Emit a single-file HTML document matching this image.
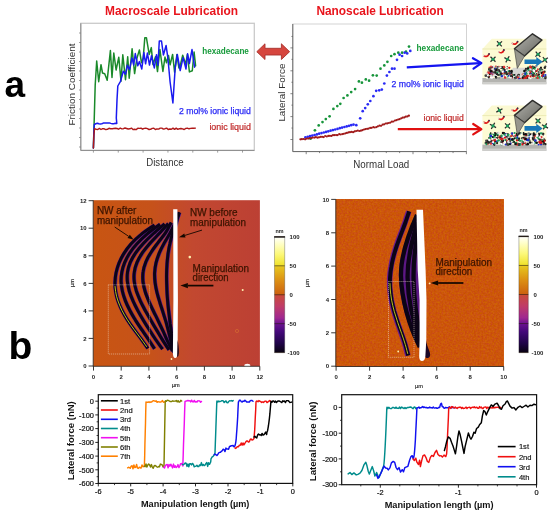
<!DOCTYPE html>
<html><head><meta charset="utf-8"><title>Figure</title>
<style>html,body{margin:0;padding:0;background:#fff}svg{display:block;font-family:"Liberation Sans",sans-serif;filter:blur(0.45px)}</style></head>
<body>
<svg width="550" height="513" viewBox="0 0 550 513">
<rect width="550" height="513" fill="#fff"/>
<text x="4.5" y="97" font-size="37" fill="#000" font-weight="bold" text-anchor="start" >a</text>
<text x="8.5" y="359.2" font-size="39" fill="#000" font-weight="bold" text-anchor="start" >b</text>
<text x="105" y="14.5" font-size="13" fill="#e8141c" font-weight="bold" text-anchor="start" textLength="133" lengthAdjust="spacingAndGlyphs" >Macroscale Lubrication</text>
<text x="316.4" y="14.5" font-size="13" fill="#e8141c" font-weight="bold" text-anchor="start" textLength="127.4" lengthAdjust="spacingAndGlyphs" >Nanoscale Lubrication</text>
<rect x="80.8" y="23.3" width="173.5" height="127.10000000000001" fill="#fff" stroke="#cacaca" stroke-width="1.3"/>
<line x1="80.8" y1="23.3" x2="80.8" y2="150.4" stroke="#8a8a8a" stroke-width="1" />
<line x1="80.8" y1="150.4" x2="254.3" y2="150.4" stroke="#8a8a8a" stroke-width="1" />
<line x1="79.0" y1="33.0" x2="80.8" y2="33.0" stroke="#777" stroke-width="0.7" />
<line x1="79.0" y1="42.5" x2="80.8" y2="42.5" stroke="#777" stroke-width="0.7" />
<line x1="79.0" y1="52.0" x2="80.8" y2="52.0" stroke="#777" stroke-width="0.7" />
<line x1="79.0" y1="61.5" x2="80.8" y2="61.5" stroke="#777" stroke-width="0.7" />
<line x1="79.0" y1="71.0" x2="80.8" y2="71.0" stroke="#777" stroke-width="0.7" />
<line x1="79.0" y1="80.5" x2="80.8" y2="80.5" stroke="#777" stroke-width="0.7" />
<line x1="79.0" y1="90.0" x2="80.8" y2="90.0" stroke="#777" stroke-width="0.7" />
<line x1="79.0" y1="99.5" x2="80.8" y2="99.5" stroke="#777" stroke-width="0.7" />
<line x1="79.0" y1="109.0" x2="80.8" y2="109.0" stroke="#777" stroke-width="0.7" />
<line x1="79.0" y1="118.5" x2="80.8" y2="118.5" stroke="#777" stroke-width="0.7" />
<line x1="79.0" y1="128.0" x2="80.8" y2="128.0" stroke="#777" stroke-width="0.7" />
<line x1="79.0" y1="137.5" x2="80.8" y2="137.5" stroke="#777" stroke-width="0.7" />
<line x1="79.0" y1="147.0" x2="80.8" y2="147.0" stroke="#777" stroke-width="0.7" />
<line x1="93.4" y1="150.4" x2="93.4" y2="152.6" stroke="#777" stroke-width="0.7" />
<line x1="118.25" y1="150.4" x2="118.25" y2="152.6" stroke="#777" stroke-width="0.7" />
<line x1="143.10000000000002" y1="150.4" x2="143.10000000000002" y2="152.6" stroke="#777" stroke-width="0.7" />
<line x1="167.95000000000002" y1="150.4" x2="167.95000000000002" y2="152.6" stroke="#777" stroke-width="0.7" />
<line x1="192.8" y1="150.4" x2="192.8" y2="152.6" stroke="#777" stroke-width="0.7" />
<line x1="217.65" y1="150.4" x2="217.65" y2="152.6" stroke="#777" stroke-width="0.7" />
<line x1="242.50000000000003" y1="150.4" x2="242.50000000000003" y2="152.6" stroke="#777" stroke-width="0.7" />
<text x="75" y="125.5" font-size="9.6" fill="#333" font-weight="normal" text-anchor="start" textLength="82" lengthAdjust="spacingAndGlyphs" transform="rotate(-90 75 125.5)" >Friction Coefficient</text>
<text x="146.3" y="165.6" font-size="10" fill="#333" font-weight="normal" text-anchor="start" textLength="37.4" lengthAdjust="spacingAndGlyphs" >Distance</text>
<polyline points="93.4,148.0 94.2,120.0 95.2,85.0 96.7,61.0 98.7,81.7 101.0,64.7 102.5,73.0 104.7,73.8 107.2,80.2 110.4,50.5 112.0,77.5 113.8,53.0 116.1,70.0 118.8,57.2 121.0,81.2 122.8,54.8 125.5,79.7 127.7,56.7 129.2,78.2 132.1,48.8 134.6,73.6 136.8,58.8 139.4,49.9 141.5,62.7 143.2,58.1 144.8,37.7 145.8,37.7 146.4,37.7 149.2,54.5 151.3,47.6 153.0,64.6 155.5,56.8 157.5,71.6 159.9,49.4 162.9,71.5 165.0,57.1 166.5,62.8 168.5,55.5 170.1,64.8 172.6,54.4 174.6,72.2 176.9,54.6 178.9,67.9 180.3,65.3 182.7,55.3 185.7,64.2 187.4,54.3 189.4,71.9 192.3,70.7 194.1,52.0 195.6,65.9" fill="none" stroke="#1a8a2a" stroke-width="1.5" stroke-linejoin="round" stroke-linecap="round" />
<polyline points="93.4,148.0 93.8,135.0 94.3,124.5 95.8,123.8 97.3,123.2 98.8,123.8 100.3,123.9 101.8,123.8 103.3,123.1 104.8,123.0 106.3,123.0 107.8,122.9 109.3,122.9 110.8,123.4 112.3,123.8 113.8,123.7 115.3,123.3 116.8,123.5 116.3,118.0 117.0,100.0 117.8,86.0 120.5,81.3 123.3,71.2 125.5,74.2 127.4,65.3 129.5,69.6 132.0,57.9 133.7,64.9 135.3,53.6 137.8,65.8 139.4,61.6 141.8,69.0 143.9,52.6 145.6,63.8 147.4,53.1 149.5,65.0 151.5,55.7 154.3,67.9 156.5,54.7 157.9,65.2 159.3,41.0 161.5,41.0 163.4,55.0 166.1,45.5 167.9,58.2 170.1,82.0 172.9,103.0 175.2,67.9 177.3,54.5 180.2,70.5 183.1,57.6 186.0,69.0 187.6,53.8 189.4,63.5 192.0,49.6 194.6,67.2" fill="none" stroke="#1a1af0" stroke-width="1.5" stroke-linejoin="round" stroke-linecap="round" />
<polyline points="93.4,148.0 93.9,135.0 94.6,128.5 96.2,129.4 97.8,129.5 99.4,128.4 101.0,129.5 102.6,128.6 104.2,128.8 105.8,129.6 107.4,129.3 109.0,128.3 110.6,128.7 112.2,128.8 113.8,128.5 115.4,128.3 117.0,128.5 118.6,129.2 120.2,128.0 121.8,128.9 123.4,128.7 125.0,128.0 126.6,128.5 128.2,129.0 129.8,128.8 131.4,128.1 133.0,129.6 134.6,129.3 136.2,129.6 137.8,128.2 139.4,128.4 141.0,128.1 142.6,129.2 144.2,128.4 145.8,128.2 147.4,128.7 149.0,129.5 150.6,129.3 152.2,128.4 153.8,128.2 155.4,129.5 157.0,128.9 158.6,129.1 160.2,128.1 161.8,128.1 163.4,129.1 165.0,128.7 166.6,128.1 168.2,129.5 169.8,129.0 171.4,129.3 173.0,128.1 174.6,129.4 176.2,128.1 177.8,129.4 179.4,128.7 181.0,128.5 182.6,128.9 184.2,129.5 185.8,128.4 187.4,128.2 189.0,128.8 190.6,128.4 192.2,128.2 193.8,128.3 195.4,128.1" fill="none" stroke="#b01818" stroke-width="1.4" stroke-linejoin="round" stroke-linecap="round" />
<text x="202.3" y="53.6" font-size="8.6" fill="#169a3a" font-weight="bold" text-anchor="start" textLength="46.6" lengthAdjust="spacingAndGlyphs" >hexadecane</text>
<text x="178.9" y="113.7" font-size="8.4" fill="#2a2af5" font-weight="normal" text-anchor="start" textLength="72" lengthAdjust="spacingAndGlyphs" stroke="#2a2af5" stroke-width="0.25">2 mol% ionic liquid</text>
<text x="209.4" y="130.2" font-size="8.4" fill="#c02828" font-weight="normal" text-anchor="start" textLength="41.5" lengthAdjust="spacingAndGlyphs" stroke="#c02828" stroke-width="0.2">ionic liquid</text>
<path d="M256.8,51.7 L265,43.8 L265,48.3 L281.4,48.3 L281.4,43.8 L289.6,51.7 L281.4,59.5 L281.4,55 L265,55 L265,59.5 Z" fill="#d6463e" stroke="#a8322c" stroke-width="0.9"/>
<rect x="292.8" y="24" width="173.8" height="127.6" fill="#fff" stroke="#c8c8c8" stroke-width="0.8"/>
<line x1="292.8" y1="24" x2="292.8" y2="151.6" stroke="#666" stroke-width="1" />
<line x1="292.8" y1="151.6" x2="466.6" y2="151.6" stroke="#666" stroke-width="1" />
<line x1="290.40000000000003" y1="139.5" x2="292.8" y2="139.5" stroke="#555" stroke-width="0.7" />
<line x1="291.40000000000003" y1="128.05" x2="292.8" y2="128.05" stroke="#555" stroke-width="0.7" />
<line x1="290.40000000000003" y1="116.6" x2="292.8" y2="116.6" stroke="#555" stroke-width="0.7" />
<line x1="291.40000000000003" y1="105.15" x2="292.8" y2="105.15" stroke="#555" stroke-width="0.7" />
<line x1="290.40000000000003" y1="93.7" x2="292.8" y2="93.7" stroke="#555" stroke-width="0.7" />
<line x1="291.40000000000003" y1="82.25" x2="292.8" y2="82.25" stroke="#555" stroke-width="0.7" />
<line x1="290.40000000000003" y1="70.80000000000001" x2="292.8" y2="70.80000000000001" stroke="#555" stroke-width="0.7" />
<line x1="291.40000000000003" y1="59.35000000000001" x2="292.8" y2="59.35000000000001" stroke="#555" stroke-width="0.7" />
<line x1="290.40000000000003" y1="47.900000000000006" x2="292.8" y2="47.900000000000006" stroke="#555" stroke-width="0.7" />
<line x1="291.40000000000003" y1="36.45" x2="292.8" y2="36.45" stroke="#555" stroke-width="0.7" />
<line x1="306.2" y1="151.6" x2="306.2" y2="154.2" stroke="#555" stroke-width="0.7" />
<line x1="319.55" y1="151.6" x2="319.55" y2="153.1" stroke="#555" stroke-width="0.7" />
<line x1="332.9" y1="151.6" x2="332.9" y2="153.1" stroke="#555" stroke-width="0.7" />
<line x1="346.25" y1="151.6" x2="346.25" y2="153.1" stroke="#555" stroke-width="0.7" />
<line x1="359.59999999999997" y1="151.6" x2="359.59999999999997" y2="154.2" stroke="#555" stroke-width="0.7" />
<line x1="372.95" y1="151.6" x2="372.95" y2="153.1" stroke="#555" stroke-width="0.7" />
<line x1="386.29999999999995" y1="151.6" x2="386.29999999999995" y2="153.1" stroke="#555" stroke-width="0.7" />
<line x1="399.65" y1="151.6" x2="399.65" y2="153.1" stroke="#555" stroke-width="0.7" />
<line x1="413.0" y1="151.6" x2="413.0" y2="154.2" stroke="#555" stroke-width="0.7" />
<line x1="426.34999999999997" y1="151.6" x2="426.34999999999997" y2="153.1" stroke="#555" stroke-width="0.7" />
<line x1="439.7" y1="151.6" x2="439.7" y2="153.1" stroke="#555" stroke-width="0.7" />
<line x1="453.04999999999995" y1="151.6" x2="453.04999999999995" y2="153.1" stroke="#555" stroke-width="0.7" />
<line x1="466.4" y1="151.6" x2="466.4" y2="154.2" stroke="#555" stroke-width="0.7" />
<text x="284.8" y="121.6" font-size="9.8" fill="#333" font-weight="normal" text-anchor="start" textLength="58" lengthAdjust="spacingAndGlyphs" transform="rotate(-90 284.8 121.6)" >Lateral Force</text>
<text x="353.3" y="167.5" font-size="10" fill="#333" font-weight="normal" text-anchor="start" textLength="56" lengthAdjust="spacingAndGlyphs" >Normal Load</text>
<circle cx="310.5" cy="138.7" r="1.35" fill="#16943a"/>
<circle cx="314.9" cy="130.3" r="1.35" fill="#16943a"/>
<circle cx="318.7" cy="125.4" r="1.35" fill="#16943a"/>
<circle cx="322.5" cy="122.1" r="1.35" fill="#16943a"/>
<circle cx="325.8" cy="119.1" r="1.35" fill="#16943a"/>
<circle cx="329.6" cy="116.3" r="1.35" fill="#16943a"/>
<circle cx="333.4" cy="108.9" r="1.35" fill="#16943a"/>
<circle cx="337.3" cy="106.1" r="1.35" fill="#16943a"/>
<circle cx="340.3" cy="103.8" r="1.35" fill="#16943a"/>
<circle cx="343.6" cy="98.0" r="1.35" fill="#16943a"/>
<circle cx="347.4" cy="95.4" r="1.35" fill="#16943a"/>
<circle cx="351.2" cy="92.1" r="1.35" fill="#16943a"/>
<circle cx="355.1" cy="89.1" r="1.35" fill="#16943a"/>
<circle cx="358.9" cy="81.4" r="1.35" fill="#16943a"/>
<circle cx="361.9" cy="82.7" r="1.35" fill="#16943a"/>
<circle cx="365.8" cy="79.4" r="1.35" fill="#16943a"/>
<circle cx="369.1" cy="80.7" r="1.35" fill="#16943a"/>
<circle cx="372.9" cy="75.3" r="1.35" fill="#16943a"/>
<circle cx="376.7" cy="75.6" r="1.35" fill="#16943a"/>
<circle cx="380.5" cy="68.7" r="1.35" fill="#16943a"/>
<circle cx="384.3" cy="65.4" r="1.35" fill="#16943a"/>
<circle cx="387.4" cy="61.8" r="1.35" fill="#16943a"/>
<circle cx="391.2" cy="56.0" r="1.35" fill="#16943a"/>
<circle cx="394.5" cy="54.2" r="1.35" fill="#16943a"/>
<circle cx="398.3" cy="52.7" r="1.35" fill="#16943a"/>
<circle cx="402.1" cy="52.7" r="1.35" fill="#16943a"/>
<circle cx="406.0" cy="51.7" r="1.35" fill="#16943a"/>
<circle cx="409.0" cy="46.6" r="1.35" fill="#16943a"/>
<circle cx="305.4" cy="137.4" r="1.35" fill="#2a2af5"/>
<circle cx="307.7" cy="136.8" r="1.35" fill="#2a2af5"/>
<circle cx="310.0" cy="136.2" r="1.35" fill="#2a2af5"/>
<circle cx="312.3" cy="135.6" r="1.35" fill="#2a2af5"/>
<circle cx="314.6" cy="135.0" r="1.35" fill="#2a2af5"/>
<circle cx="316.9" cy="134.4" r="1.35" fill="#2a2af5"/>
<circle cx="319.2" cy="133.7" r="1.35" fill="#2a2af5"/>
<circle cx="321.5" cy="133.1" r="1.35" fill="#2a2af5"/>
<circle cx="323.8" cy="132.5" r="1.35" fill="#2a2af5"/>
<circle cx="326.1" cy="131.9" r="1.35" fill="#2a2af5"/>
<circle cx="328.3" cy="131.3" r="1.35" fill="#2a2af5"/>
<circle cx="330.6" cy="130.7" r="1.35" fill="#2a2af5"/>
<circle cx="332.9" cy="130.1" r="1.35" fill="#2a2af5"/>
<circle cx="335.2" cy="129.5" r="1.35" fill="#2a2af5"/>
<circle cx="337.5" cy="128.9" r="1.35" fill="#2a2af5"/>
<circle cx="339.8" cy="128.2" r="1.35" fill="#2a2af5"/>
<circle cx="342.1" cy="127.6" r="1.35" fill="#2a2af5"/>
<circle cx="344.4" cy="127.0" r="1.35" fill="#2a2af5"/>
<circle cx="346.7" cy="126.4" r="1.35" fill="#2a2af5"/>
<circle cx="349.0" cy="125.8" r="1.35" fill="#2a2af5"/>
<circle cx="351.2" cy="125.2" r="1.35" fill="#2a2af5"/>
<circle cx="353.5" cy="124.6" r="1.35" fill="#2a2af5"/>
<circle cx="356.3" cy="125.2" r="1.35" fill="#2a2af5"/>
<circle cx="360.2" cy="118.3" r="1.35" fill="#2a2af5"/>
<circle cx="362.7" cy="111.2" r="1.35" fill="#2a2af5"/>
<circle cx="365.2" cy="108.1" r="1.35" fill="#2a2af5"/>
<circle cx="367.8" cy="104.3" r="1.35" fill="#2a2af5"/>
<circle cx="370.3" cy="101.0" r="1.35" fill="#2a2af5"/>
<circle cx="373.4" cy="96.2" r="1.35" fill="#2a2af5"/>
<circle cx="376.2" cy="90.8" r="1.35" fill="#2a2af5"/>
<circle cx="379.2" cy="90.3" r="1.35" fill="#2a2af5"/>
<circle cx="381.8" cy="89.6" r="1.35" fill="#2a2af5"/>
<circle cx="384.3" cy="83.5" r="1.35" fill="#2a2af5"/>
<circle cx="386.9" cy="75.6" r="1.35" fill="#2a2af5"/>
<circle cx="389.4" cy="72.0" r="1.35" fill="#2a2af5"/>
<circle cx="392.0" cy="68.7" r="1.35" fill="#2a2af5"/>
<circle cx="394.5" cy="68.7" r="1.35" fill="#2a2af5"/>
<circle cx="397.0" cy="59.8" r="1.35" fill="#2a2af5"/>
<circle cx="399.6" cy="54.7" r="1.35" fill="#2a2af5"/>
<circle cx="402.1" cy="56.0" r="1.35" fill="#2a2af5"/>
<circle cx="404.7" cy="52.7" r="1.35" fill="#2a2af5"/>
<circle cx="407.2" cy="53.4" r="1.35" fill="#2a2af5"/>
<circle cx="410.3" cy="50.9" r="1.35" fill="#2a2af5"/>
<circle cx="300.4" cy="139.3" r="1.1" fill="#a01818"/>
<circle cx="301.9" cy="139.2" r="1.1" fill="#a01818"/>
<circle cx="303.5" cy="139.0" r="1.1" fill="#a01818"/>
<circle cx="305.1" cy="139.3" r="1.1" fill="#a01818"/>
<circle cx="306.6" cy="138.6" r="1.1" fill="#a01818"/>
<circle cx="308.2" cy="138.6" r="1.1" fill="#a01818"/>
<circle cx="309.7" cy="138.1" r="1.1" fill="#a01818"/>
<circle cx="311.3" cy="138.1" r="1.1" fill="#a01818"/>
<circle cx="312.8" cy="137.6" r="1.1" fill="#a01818"/>
<circle cx="314.4" cy="137.6" r="1.1" fill="#a01818"/>
<circle cx="315.9" cy="137.2" r="1.1" fill="#a01818"/>
<circle cx="317.5" cy="137.7" r="1.1" fill="#a01818"/>
<circle cx="319.0" cy="137.3" r="1.1" fill="#a01818"/>
<circle cx="320.6" cy="136.8" r="1.1" fill="#a01818"/>
<circle cx="322.1" cy="136.8" r="1.1" fill="#a01818"/>
<circle cx="323.7" cy="137.1" r="1.1" fill="#a01818"/>
<circle cx="325.2" cy="136.0" r="1.1" fill="#a01818"/>
<circle cx="326.8" cy="136.5" r="1.1" fill="#a01818"/>
<circle cx="328.3" cy="135.9" r="1.1" fill="#a01818"/>
<circle cx="329.9" cy="135.8" r="1.1" fill="#a01818"/>
<circle cx="331.4" cy="135.9" r="1.1" fill="#a01818"/>
<circle cx="333.0" cy="135.2" r="1.1" fill="#a01818"/>
<circle cx="334.5" cy="135.1" r="1.1" fill="#a01818"/>
<circle cx="336.1" cy="135.1" r="1.1" fill="#a01818"/>
<circle cx="337.6" cy="135.1" r="1.1" fill="#a01818"/>
<circle cx="339.2" cy="134.2" r="1.1" fill="#a01818"/>
<circle cx="340.7" cy="134.5" r="1.1" fill="#a01818"/>
<circle cx="342.3" cy="134.1" r="1.1" fill="#a01818"/>
<circle cx="343.8" cy="133.8" r="1.1" fill="#a01818"/>
<circle cx="345.4" cy="133.3" r="1.1" fill="#a01818"/>
<circle cx="346.9" cy="132.9" r="1.1" fill="#a01818"/>
<circle cx="348.5" cy="132.4" r="1.1" fill="#a01818"/>
<circle cx="350.0" cy="132.2" r="1.1" fill="#a01818"/>
<circle cx="351.6" cy="131.8" r="1.1" fill="#a01818"/>
<circle cx="353.1" cy="132.2" r="1.1" fill="#a01818"/>
<circle cx="354.7" cy="131.4" r="1.1" fill="#a01818"/>
<circle cx="356.2" cy="131.0" r="1.1" fill="#a01818"/>
<circle cx="357.8" cy="130.6" r="1.1" fill="#a01818"/>
<circle cx="359.3" cy="131.0" r="1.1" fill="#a01818"/>
<circle cx="360.9" cy="130.7" r="1.1" fill="#a01818"/>
<circle cx="362.4" cy="130.2" r="1.1" fill="#a01818"/>
<circle cx="364.0" cy="129.5" r="1.1" fill="#a01818"/>
<circle cx="365.5" cy="129.1" r="1.1" fill="#a01818"/>
<circle cx="367.1" cy="128.8" r="1.1" fill="#a01818"/>
<circle cx="368.6" cy="128.6" r="1.1" fill="#a01818"/>
<circle cx="370.2" cy="127.9" r="1.1" fill="#a01818"/>
<circle cx="371.7" cy="127.8" r="1.1" fill="#a01818"/>
<circle cx="373.3" cy="127.2" r="1.1" fill="#a01818"/>
<circle cx="374.8" cy="127.5" r="1.1" fill="#a01818"/>
<circle cx="376.4" cy="127.1" r="1.1" fill="#a01818"/>
<circle cx="377.9" cy="126.3" r="1.1" fill="#a01818"/>
<circle cx="379.5" cy="125.6" r="1.1" fill="#a01818"/>
<circle cx="381.0" cy="125.8" r="1.1" fill="#a01818"/>
<circle cx="382.6" cy="124.7" r="1.1" fill="#a01818"/>
<circle cx="384.1" cy="124.3" r="1.1" fill="#a01818"/>
<circle cx="385.7" cy="123.5" r="1.1" fill="#a01818"/>
<circle cx="387.2" cy="123.4" r="1.1" fill="#a01818"/>
<circle cx="388.8" cy="123.0" r="1.1" fill="#a01818"/>
<circle cx="390.3" cy="122.6" r="1.1" fill="#a01818"/>
<circle cx="391.9" cy="121.7" r="1.1" fill="#a01818"/>
<circle cx="393.4" cy="121.5" r="1.1" fill="#a01818"/>
<circle cx="395.0" cy="120.5" r="1.1" fill="#a01818"/>
<circle cx="396.5" cy="120.2" r="1.1" fill="#a01818"/>
<circle cx="398.1" cy="119.5" r="1.1" fill="#a01818"/>
<circle cx="399.6" cy="119.2" r="1.1" fill="#a01818"/>
<circle cx="401.2" cy="118.3" r="1.1" fill="#a01818"/>
<circle cx="402.7" cy="117.7" r="1.1" fill="#a01818"/>
<circle cx="404.3" cy="117.4" r="1.1" fill="#a01818"/>
<circle cx="405.8" cy="116.7" r="1.1" fill="#a01818"/>
<circle cx="407.4" cy="116.4" r="1.1" fill="#a01818"/>
<circle cx="408.9" cy="115.7" r="1.1" fill="#a01818"/>
<text x="416.5" y="51.2" font-size="8.6" fill="#169a3a" font-weight="bold" text-anchor="start" textLength="47.3" lengthAdjust="spacingAndGlyphs" >hexadecane</text>
<text x="391.5" y="87.0" font-size="8.4" fill="#2a2af5" font-weight="normal" text-anchor="start" textLength="72.3" lengthAdjust="spacingAndGlyphs" stroke="#2a2af5" stroke-width="0.25">2 mol% ionic liquid</text>
<text x="423.5" y="121.2" font-size="8.4" fill="#c02828" font-weight="normal" text-anchor="start" textLength="40.3" lengthAdjust="spacingAndGlyphs" stroke="#c02828" stroke-width="0.2">ionic liquid</text>
<line x1="406.8" y1="67.3" x2="480" y2="63.2" stroke="#1414f0" stroke-width="2.2" />
<path d="M472.9,58.2 L481.4,63.1 L473.5,68.6" fill="none" stroke="#1414f0" stroke-width="2.2" stroke-linejoin="miter" stroke-linecap="round"/>
<line x1="397.8" y1="129.2" x2="480" y2="129.2" stroke="#e01010" stroke-width="2.2" />
<path d="M473.2,124 L481.4,129.2 L473.2,134.4" fill="none" stroke="#e01010" stroke-width="2.2" stroke-linejoin="miter" stroke-linecap="round"/>
<path d="M491.8,38.8 L546.4,38.8 L546.4,49.0 L482.4,49.0 Z" fill="#fbf9d2"/>
<rect x="482.4" y="49.0" width="64" height="29" fill="#fdfbd4"/>
<line x1="482.4" y1="49.0" x2="546.4" y2="49.0" stroke="#e6e6a8" stroke-width="0.8" />
<rect x="482.4" y="78.0" width="64" height="6.2" fill="#b4b4b0"/>
<rect x="482.4" y="82.0" width="64" height="2.2" fill="#cfcfcc"/>
<path d="M508,78.0 L513,67.8 L530,67.8 L526,78.0 Z" fill="#d6d6d2"/>
<circle cx="511.8" cy="74.2" r="1.06" fill="#333"/>
<circle cx="515.2" cy="75.4" r="1.24" fill="#444"/>
<circle cx="513.3" cy="75.1" r="0.85" fill="#444"/>
<circle cx="502.7" cy="67.4" r="1.29" fill="#333"/>
<circle cx="523.0" cy="74.8" r="1.33" fill="#d81818"/>
<circle cx="524.2" cy="74.7" r="1.14" fill="#444"/>
<circle cx="535.1" cy="67.1" r="0.90" fill="#111"/>
<circle cx="498.9" cy="66.7" r="0.98" fill="#e03030"/>
<circle cx="498.4" cy="69.8" r="1.16" fill="#111"/>
<circle cx="545.4" cy="78.1" r="1.19" fill="#222"/>
<circle cx="503.4" cy="69.1" r="0.82" fill="#ddd"/>
<circle cx="490.6" cy="69.8" r="1.33" fill="#222"/>
<circle cx="536.1" cy="66.3" r="1.31" fill="#999"/>
<circle cx="527.6" cy="71.8" r="1.15" fill="#1a9a5a"/>
<circle cx="531.9" cy="69.6" r="0.97" fill="#222"/>
<circle cx="540.8" cy="67.9" r="0.86" fill="#111"/>
<circle cx="487.7" cy="75.8" r="1.18" fill="#444"/>
<circle cx="495.6" cy="72.4" r="1.22" fill="#111"/>
<circle cx="509.8" cy="71.8" r="1.03" fill="#d81818"/>
<circle cx="497.1" cy="69.5" r="1.13" fill="#333"/>
<circle cx="545.4" cy="66.5" r="1.02" fill="#444"/>
<circle cx="536.5" cy="73.9" r="0.82" fill="#222"/>
<circle cx="493.0" cy="71.6" r="1.22" fill="#111"/>
<circle cx="504.2" cy="69.9" r="0.84" fill="#222"/>
<circle cx="496.8" cy="73.9" r="1.13" fill="#111"/>
<circle cx="506.9" cy="72.0" r="1.07" fill="#1a9a5a"/>
<circle cx="519.3" cy="77.4" r="1.14" fill="#444"/>
<circle cx="503.1" cy="69.1" r="0.94" fill="#1a9a5a"/>
<circle cx="495.7" cy="75.1" r="0.91" fill="#1a9a5a"/>
<circle cx="542.4" cy="76.8" r="0.84" fill="#1a9a5a"/>
<circle cx="529.5" cy="71.2" r="1.25" fill="#d81818"/>
<circle cx="494.8" cy="74.9" r="0.87" fill="#222"/>
<circle cx="513.5" cy="75.4" r="1.14" fill="#1a9a5a"/>
<circle cx="501.2" cy="77.2" r="1.21" fill="#999"/>
<circle cx="488.3" cy="71.2" r="0.83" fill="#999"/>
<circle cx="494.8" cy="70.7" r="1.34" fill="#1a9a5a"/>
<circle cx="489.7" cy="67.9" r="1.34" fill="#e03030"/>
<circle cx="524.4" cy="75.3" r="1.32" fill="#1a9a5a"/>
<circle cx="520.3" cy="77.7" r="1.30" fill="#e03030"/>
<circle cx="527.1" cy="77.8" r="1.13" fill="#111"/>
<circle cx="503.1" cy="68.0" r="0.84" fill="#222"/>
<circle cx="517.6" cy="76.6" r="1.21" fill="#111"/>
<circle cx="492.0" cy="77.8" r="0.99" fill="#fff"/>
<circle cx="526.1" cy="77.2" r="1.32" fill="#d81818"/>
<circle cx="507.3" cy="67.0" r="0.84" fill="#222"/>
<circle cx="523.3" cy="78.1" r="1.20" fill="#d81818"/>
<circle cx="507.9" cy="75.2" r="1.05" fill="#1a9a5a"/>
<circle cx="515.9" cy="75.1" r="1.13" fill="#ddd"/>
<circle cx="526.9" cy="72.8" r="1.16" fill="#1a9a5a"/>
<circle cx="513.9" cy="77.4" r="0.97" fill="#fff"/>
<circle cx="525.7" cy="70.1" r="1.21" fill="#444"/>
<circle cx="505.1" cy="77.4" r="1.29" fill="#e03030"/>
<circle cx="504.1" cy="74.3" r="1.15" fill="#999"/>
<circle cx="533.4" cy="75.3" r="1.28" fill="#999"/>
<circle cx="507.6" cy="73.5" r="0.92" fill="#fff"/>
<circle cx="492.3" cy="70.5" r="1.19" fill="#111"/>
<circle cx="542.4" cy="69.6" r="0.86" fill="#444"/>
<circle cx="513.0" cy="77.6" r="1.01" fill="#d81818"/>
<circle cx="516.0" cy="76.1" r="1.26" fill="#111"/>
<circle cx="544.4" cy="71.7" r="1.26" fill="#222"/>
<circle cx="501.1" cy="73.5" r="1.19" fill="#1a2ad0"/>
<circle cx="532.7" cy="66.6" r="1.02" fill="#444"/>
<circle cx="495.7" cy="75.5" r="0.93" fill="#ddd"/>
<circle cx="492.7" cy="66.9" r="0.86" fill="#1a2ad0"/>
<circle cx="490.7" cy="72.7" r="1.24" fill="#1a2ad0"/>
<circle cx="542.9" cy="74.4" r="1.25" fill="#999"/>
<circle cx="499.7" cy="74.8" r="1.06" fill="#333"/>
<circle cx="527.9" cy="69.1" r="1.23" fill="#ddd"/>
<circle cx="517.2" cy="77.9" r="1.14" fill="#1a9a5a"/>
<circle cx="530.5" cy="71.1" r="1.18" fill="#333"/>
<circle cx="497.8" cy="71.2" r="1.01" fill="#111"/>
<circle cx="511.7" cy="70.8" r="1.01" fill="#111"/>
<circle cx="519.0" cy="77.5" r="1.25" fill="#333"/>
<circle cx="505.1" cy="70.3" r="0.85" fill="#999"/>
<circle cx="537.3" cy="75.8" r="0.87" fill="#111"/>
<circle cx="498.9" cy="70.9" r="1.34" fill="#222"/>
<circle cx="517.0" cy="76.9" r="0.94" fill="#fff"/>
<circle cx="528.2" cy="67.2" r="0.85" fill="#1a9a5a"/>
<circle cx="511.1" cy="73.9" r="0.95" fill="#333"/>
<circle cx="540.6" cy="68.9" r="1.04" fill="#222"/>
<circle cx="526.2" cy="77.3" r="0.88" fill="#e03030"/>
<circle cx="515.8" cy="76.4" r="1.18" fill="#1a2ad0"/>
<circle cx="542.2" cy="72.2" r="0.85" fill="#111"/>
<circle cx="497.6" cy="72.6" r="1.26" fill="#ddd"/>
<circle cx="515.6" cy="77.6" r="0.97" fill="#ddd"/>
<circle cx="507.4" cy="76.5" r="0.91" fill="#1a9a5a"/>
<circle cx="536.3" cy="77.8" r="0.95" fill="#1a9a5a"/>
<circle cx="491.0" cy="66.4" r="0.82" fill="#d81818"/>
<circle cx="543.6" cy="72.4" r="1.10" fill="#d81818"/>
<circle cx="544.8" cy="67.8" r="1.18" fill="#222"/>
<circle cx="488.1" cy="72.7" r="1.31" fill="#d81818"/>
<circle cx="533.2" cy="71.1" r="1.06" fill="#999"/>
<circle cx="491.8" cy="71.5" r="1.09" fill="#e03030"/>
<circle cx="490.7" cy="71.3" r="1.31" fill="#111"/>
<circle cx="492.0" cy="75.6" r="0.82" fill="#111"/>
<circle cx="493.6" cy="66.4" r="0.98" fill="#ddd"/>
<circle cx="505.9" cy="73.8" r="1.07" fill="#222"/>
<circle cx="519.8" cy="77.3" r="0.94" fill="#1a9a5a"/>
<circle cx="496.2" cy="72.6" r="0.81" fill="#d81818"/>
<circle cx="522.9" cy="76.8" r="0.89" fill="#1a9a5a"/>
<circle cx="496.6" cy="73.8" r="0.92" fill="#1a2ad0"/>
<circle cx="497.3" cy="72.8" r="1.27" fill="#1a9a5a"/>
<circle cx="498.3" cy="75.1" r="0.99" fill="#333"/>
<circle cx="495.1" cy="73.5" r="0.92" fill="#999"/>
<circle cx="545.4" cy="76.9" r="1.29" fill="#444"/>
<circle cx="492.2" cy="67.3" r="0.85" fill="#d81818"/>
<circle cx="535.2" cy="71.3" r="1.19" fill="#333"/>
<circle cx="496.3" cy="73.8" r="0.81" fill="#333"/>
<circle cx="496.4" cy="74.4" r="0.86" fill="#fff"/>
<circle cx="515.1" cy="76.5" r="1.35" fill="#1a9a5a"/>
<circle cx="535.2" cy="75.9" r="0.86" fill="#e03030"/>
<circle cx="515.7" cy="75.4" r="0.90" fill="#444"/>
<circle cx="491.1" cy="68.4" r="1.34" fill="#444"/>
<circle cx="541.0" cy="67.4" r="0.87" fill="#111"/>
<circle cx="525.9" cy="68.8" r="0.98" fill="#222"/>
<circle cx="510.4" cy="74.2" r="1.15" fill="#111"/>
<circle cx="509.1" cy="71.3" r="1.02" fill="#fff"/>
<circle cx="496.0" cy="68.3" r="1.24" fill="#1a9a5a"/>
<circle cx="503.9" cy="67.4" r="1.28" fill="#111"/>
<circle cx="539.9" cy="77.5" r="1.13" fill="#1a9a5a"/>
<circle cx="515.0" cy="78.1" r="1.22" fill="#333"/>
<circle cx="501.2" cy="67.7" r="1.23" fill="#111"/>
<circle cx="534.1" cy="71.1" r="1.28" fill="#fff"/>
<circle cx="526.7" cy="75.7" r="0.90" fill="#333"/>
<circle cx="496.7" cy="68.5" r="0.99" fill="#333"/>
<circle cx="505.9" cy="74.0" r="0.83" fill="#1a9a5a"/>
<circle cx="500.8" cy="77.7" r="0.99" fill="#ddd"/>
<circle cx="524.6" cy="74.1" r="0.84" fill="#1a9a5a"/>
<circle cx="515.7" cy="74.9" r="1.19" fill="#999"/>
<circle cx="530.8" cy="78.0" r="0.86" fill="#111"/>
<circle cx="490.6" cy="69.1" r="1.02" fill="#e03030"/>
<circle cx="507.1" cy="68.0" r="0.95" fill="#ddd"/>
<circle cx="505.0" cy="72.8" r="1.33" fill="#d81818"/>
<circle cx="518.9" cy="78.2" r="1.04" fill="#1a2ad0"/>
<circle cx="525.1" cy="77.8" r="1.31" fill="#d81818"/>
<circle cx="493.8" cy="71.9" r="1.27" fill="#444"/>
<circle cx="517.3" cy="75.8" r="1.32" fill="#d81818"/>
<circle cx="509.9" cy="73.3" r="0.97" fill="#1a9a5a"/>
<circle cx="516.6" cy="75.0" r="1.11" fill="#ddd"/>
<circle cx="501.4" cy="74.8" r="0.81" fill="#ddd"/>
<circle cx="531.5" cy="73.3" r="0.89" fill="#1a2ad0"/>
<circle cx="530.4" cy="71.1" r="1.21" fill="#fff"/>
<circle cx="487.1" cy="78.1" r="0.84" fill="#fff"/>
<circle cx="539.7" cy="71.4" r="0.94" fill="#e03030"/>
<circle cx="530.5" cy="67.1" r="1.32" fill="#222"/>
<circle cx="528.4" cy="72.2" r="1.13" fill="#999"/>
<circle cx="491.1" cy="73.7" r="0.86" fill="#e03030"/>
<circle cx="537.0" cy="70.5" r="0.87" fill="#444"/>
<circle cx="511.2" cy="75.0" r="1.13" fill="#e03030"/>
<circle cx="523.3" cy="75.5" r="1.23" fill="#fff"/>
<circle cx="516.6" cy="78.2" r="1.20" fill="#ddd"/>
<circle cx="498.7" cy="67.7" r="1.23" fill="#ddd"/>
<circle cx="500.7" cy="74.5" r="1.18" fill="#1a9a5a"/>
<circle cx="495.7" cy="69.6" r="0.90" fill="#999"/>
<circle cx="499.3" cy="78.0" r="1.28" fill="#999"/>
<circle cx="500.7" cy="71.4" r="0.82" fill="#1a9a5a"/>
<circle cx="497.7" cy="69.6" r="0.85" fill="#333"/>
<circle cx="525.6" cy="73.7" r="1.34" fill="#1a2ad0"/>
<circle cx="504.8" cy="72.3" r="1.26" fill="#444"/>
<circle cx="533.8" cy="73.7" r="1.22" fill="#333"/>
<circle cx="511.3" cy="75.8" r="1.25" fill="#d81818"/>
<circle cx="506.7" cy="74.2" r="0.98" fill="#1a9a5a"/>
<circle cx="517.7" cy="76.7" r="1.04" fill="#444"/>
<circle cx="506.7" cy="67.9" r="0.84" fill="#fff"/>
<circle cx="489.1" cy="73.0" r="1.25" fill="#e03030"/>
<circle cx="512.5" cy="76.7" r="0.84" fill="#111"/>
<circle cx="497.1" cy="74.2" r="1.18" fill="#222"/>
<circle cx="514.4" cy="76.5" r="0.96" fill="#fff"/>
<circle cx="492.8" cy="70.6" r="0.98" fill="#111"/>
<circle cx="539.7" cy="70.1" r="1.11" fill="#e03030"/>
<circle cx="540.5" cy="77.5" r="1.04" fill="#ddd"/>
<circle cx="533.4" cy="70.0" r="0.92" fill="#fff"/>
<circle cx="543.5" cy="75.0" r="0.94" fill="#1a9a5a"/>
<circle cx="506.2" cy="70.9" r="1.17" fill="#fff"/>
<circle cx="520.0" cy="76.9" r="1.11" fill="#111"/>
<circle cx="533.0" cy="72.8" r="1.11" fill="#1a9a5a"/>
<circle cx="494.9" cy="75.3" r="1.25" fill="#ddd"/>
<circle cx="497.6" cy="67.0" r="1.11" fill="#444"/>
<circle cx="543.4" cy="74.0" r="1.03" fill="#333"/>
<circle cx="500.8" cy="67.6" r="0.85" fill="#fff"/>
<circle cx="529.9" cy="74.1" r="1.19" fill="#999"/>
<circle cx="514.1" cy="77.5" r="1.22" fill="#fff"/>
<circle cx="508.3" cy="70.9" r="1.17" fill="#fff"/>
<circle cx="514.4" cy="74.8" r="0.84" fill="#111"/>
<circle cx="530.6" cy="78.0" r="1.27" fill="#fff"/>
<circle cx="533.6" cy="76.2" r="1.33" fill="#e03030"/>
<circle cx="527.7" cy="76.0" r="1.31" fill="#d81818"/>
<circle cx="540.3" cy="69.2" r="1.35" fill="#444"/>
<circle cx="507.1" cy="68.7" r="1.01" fill="#999"/>
<circle cx="538.5" cy="71.9" r="0.86" fill="#111"/>
<circle cx="523.9" cy="76.2" r="1.30" fill="#444"/>
<circle cx="530.3" cy="66.8" r="1.30" fill="#e03030"/>
<circle cx="495.3" cy="68.9" r="1.13" fill="#999"/>
<circle cx="511.2" cy="77.2" r="0.89" fill="#d81818"/>
<circle cx="530.6" cy="70.2" r="1.32" fill="#1a9a5a"/>
<circle cx="517.9" cy="77.3" r="1.29" fill="#e03030"/>
<circle cx="540.2" cy="70.4" r="1.22" fill="#1a9a5a"/>
<circle cx="489.7" cy="76.6" r="0.83" fill="#d81818"/>
<circle cx="542.3" cy="75.8" r="1.34" fill="#d81818"/>
<circle cx="532.9" cy="75.5" r="1.34" fill="#333"/>
<circle cx="524.4" cy="71.1" r="1.28" fill="#111"/>
<circle cx="539.7" cy="71.7" r="1.19" fill="#999"/>
<circle cx="493.6" cy="70.1" r="1.30" fill="#ddd"/>
<circle cx="533.8" cy="67.9" r="1.35" fill="#111"/>
<circle cx="500.4" cy="72.7" r="1.11" fill="#444"/>
<circle cx="495.0" cy="68.7" r="1.25" fill="#444"/>
<circle cx="489.1" cy="69.5" r="1.09" fill="#111"/>
<circle cx="538.7" cy="74.6" r="1.33" fill="#222"/>
<circle cx="520.1" cy="77.3" r="0.81" fill="#ddd"/>
<circle cx="495.5" cy="68.6" r="0.85" fill="#1a2ad0"/>
<circle cx="534.8" cy="68.8" r="1.03" fill="#1a9a5a"/>
<circle cx="514.4" cy="77.8" r="0.97" fill="#ddd"/>
<circle cx="508.9" cy="73.4" r="1.17" fill="#e03030"/>
<circle cx="492.6" cy="74.2" r="1.05" fill="#1a2ad0"/>
<circle cx="543.5" cy="76.2" r="1.04" fill="#1a2ad0"/>
<circle cx="537.1" cy="74.8" r="0.93" fill="#e03030"/>
<circle cx="518.7" cy="75.0" r="1.27" fill="#111"/>
<circle cx="535.9" cy="74.9" r="0.88" fill="#1a9a5a"/>
<circle cx="522.6" cy="77.7" r="0.96" fill="#111"/>
<circle cx="504.7" cy="71.1" r="0.85" fill="#1a2ad0"/>
<circle cx="495.6" cy="70.8" r="0.98" fill="#222"/>
<circle cx="542.1" cy="73.0" r="1.15" fill="#111"/>
<circle cx="511.5" cy="72.4" r="0.88" fill="#222"/>
<circle cx="489.8" cy="74.4" r="0.90" fill="#111"/>
<circle cx="495.9" cy="66.7" r="1.13" fill="#e03030"/>
<circle cx="489.5" cy="69.0" r="1.34" fill="#444"/>
<circle cx="510.7" cy="75.9" r="1.31" fill="#fff"/>
<circle cx="510.3" cy="73.3" r="0.91" fill="#1a2ad0"/>
<circle cx="493.1" cy="74.5" r="0.98" fill="#e03030"/>
<circle cx="509.3" cy="67.8" r="1.14" fill="#d81818"/>
<circle cx="503.5" cy="75.7" r="1.16" fill="#999"/>
<circle cx="504.4" cy="70.5" r="1.04" fill="#1a2ad0"/>
<circle cx="504.5" cy="69.9" r="1.14" fill="#222"/>
<circle cx="493.7" cy="75.4" r="1.10" fill="#ddd"/>
<circle cx="505.7" cy="72.4" r="1.12" fill="#444"/>
<circle cx="496.2" cy="77.4" r="1.19" fill="#111"/>
<circle cx="541.6" cy="73.1" r="1.14" fill="#111"/>
<circle cx="496.2" cy="67.3" r="1.06" fill="#999"/>
<circle cx="509.7" cy="71.2" r="1.31" fill="#222"/>
<circle cx="506.2" cy="72.0" r="1.05" fill="#222"/>
<circle cx="528.9" cy="69.5" r="1.10" fill="#1a9a5a"/>
<circle cx="518.5" cy="75.6" r="0.89" fill="#ddd"/>
<circle cx="529.9" cy="77.0" r="1.13" fill="#fff"/>
<circle cx="491.5" cy="76.1" r="1.18" fill="#ddd"/>
<circle cx="506.4" cy="75.4" r="1.26" fill="#fff"/>
<circle cx="495.4" cy="72.8" r="1.05" fill="#222"/>
<circle cx="508.8" cy="75.8" r="0.88" fill="#1a2ad0"/>
<circle cx="530.5" cy="76.4" r="1.14" fill="#d81818"/>
<circle cx="523.4" cy="76.2" r="0.91" fill="#444"/>
<circle cx="507.8" cy="73.4" r="0.98" fill="#444"/>
<circle cx="492.1" cy="69.2" r="0.83" fill="#fff"/>
<circle cx="532.2" cy="74.9" r="0.88" fill="#333"/>
<circle cx="543.0" cy="73.4" r="0.99" fill="#e03030"/>
<circle cx="539.1" cy="77.2" r="1.22" fill="#1a9a5a"/>
<circle cx="530.2" cy="72.2" r="1.26" fill="#e03030"/>
<circle cx="536.6" cy="71.2" r="0.86" fill="#d81818"/>
<circle cx="491.0" cy="77.5" r="1.09" fill="#fff"/>
<circle cx="510.6" cy="77.2" r="1.30" fill="#fff"/>
<circle cx="502.2" cy="73.6" r="1.20" fill="#d81818"/>
<circle cx="520.7" cy="76.5" r="1.29" fill="#ddd"/>
<circle cx="537.9" cy="69.2" r="0.93" fill="#e03030"/>
<circle cx="537.7" cy="77.9" r="1.18" fill="#e03030"/>
<circle cx="502.8" cy="71.0" r="1.28" fill="#999"/>
<circle cx="545.5" cy="75.0" r="1.00" fill="#1a2ad0"/>
<circle cx="517.6" cy="75.6" r="0.92" fill="#444"/>
<circle cx="529.9" cy="73.2" r="0.85" fill="#222"/>
<circle cx="532.7" cy="67.8" r="1.12" fill="#1a9a5a"/>
<circle cx="511.9" cy="71.8" r="0.96" fill="#111"/>
<circle cx="504.0" cy="67.1" r="1.25" fill="#e03030"/>
<circle cx="508.4" cy="71.1" r="0.93" fill="#1a9a5a"/>
<circle cx="502.8" cy="71.7" r="0.97" fill="#fff"/>
<circle cx="514.7" cy="77.7" r="1.06" fill="#333"/>
<circle cx="496.7" cy="69.8" r="1.29" fill="#111"/>
<circle cx="496.0" cy="76.3" r="1.29" fill="#fff"/>
<circle cx="526.9" cy="73.5" r="1.15" fill="#1a9a5a"/>
<circle cx="495.8" cy="76.8" r="1.16" fill="#111"/>
<circle cx="502.8" cy="76.0" r="1.28" fill="#ddd"/>
<circle cx="527.9" cy="68.6" r="1.33" fill="#111"/>
<circle cx="531.9" cy="71.3" r="0.92" fill="#444"/>
<circle cx="502.9" cy="74.8" r="0.95" fill="#999"/>
<circle cx="528.3" cy="72.6" r="1.23" fill="#ddd"/>
<circle cx="506.9" cy="74.3" r="1.12" fill="#222"/>
<circle cx="498.1" cy="69.9" r="1.17" fill="#444"/>
<circle cx="501.0" cy="73.9" r="1.05" fill="#222"/>
<circle cx="488.7" cy="77.2" r="1.09" fill="#222"/>
<circle cx="486.8" cy="73.4" r="1.10" fill="#ddd"/>
<circle cx="510.0" cy="73.8" r="0.96" fill="#444"/>
<circle cx="530.5" cy="69.4" r="1.20" fill="#ddd"/>
<circle cx="485.8" cy="75.7" r="1.34" fill="#444"/>
<circle cx="530.2" cy="71.1" r="0.83" fill="#e03030"/>
<circle cx="487.9" cy="75.5" r="0.98" fill="#fff"/>
<circle cx="501.9" cy="76.1" r="1.18" fill="#1a2ad0"/>
<circle cx="516.0" cy="77.9" r="1.13" fill="#444"/>
<circle cx="531.4" cy="67.8" r="0.93" fill="#d81818"/>
<circle cx="511.1" cy="76.0" r="1.19" fill="#333"/>
<circle cx="528.4" cy="69.9" r="0.92" fill="#1a9a5a"/>
<line x1="499.4" y1="43.8" x2="501.8" y2="46.4" stroke="#2a2a2a" stroke-width="1.25" />
<line x1="499.4" y1="43.8" x2="496.8" y2="46.2" stroke="#2a2a2a" stroke-width="1.25" />
<line x1="499.4" y1="43.8" x2="497.0" y2="41.2" stroke="#2a2a2a" stroke-width="1.25" />
<line x1="499.4" y1="43.8" x2="502.0" y2="41.4" stroke="#2a2a2a" stroke-width="1.25" />
<circle cx="499.4" cy="43.8" r="1.55" fill="#189a5c"/>
<line x1="493.0" y1="59.3" x2="495.5" y2="61.8" stroke="#2a2a2a" stroke-width="1.25" />
<line x1="493.0" y1="59.3" x2="490.5" y2="61.8" stroke="#2a2a2a" stroke-width="1.25" />
<line x1="493.0" y1="59.3" x2="490.5" y2="56.8" stroke="#2a2a2a" stroke-width="1.25" />
<line x1="493.0" y1="59.3" x2="495.5" y2="56.8" stroke="#2a2a2a" stroke-width="1.25" />
<circle cx="493.0" cy="59.3" r="1.55" fill="#189a5c"/>
<line x1="507.5" y1="59.3" x2="510.6" y2="61.0" stroke="#2a2a2a" stroke-width="1.25" />
<line x1="507.5" y1="59.3" x2="505.8" y2="62.4" stroke="#2a2a2a" stroke-width="1.25" />
<line x1="507.5" y1="59.3" x2="504.4" y2="57.6" stroke="#2a2a2a" stroke-width="1.25" />
<line x1="507.5" y1="59.3" x2="509.2" y2="56.2" stroke="#2a2a2a" stroke-width="1.25" />
<circle cx="507.5" cy="59.3" r="1.55" fill="#189a5c"/>
<line x1="538.0" y1="54.3" x2="540.3" y2="56.9" stroke="#2a2a2a" stroke-width="1.25" />
<line x1="538.0" y1="54.3" x2="535.4" y2="56.6" stroke="#2a2a2a" stroke-width="1.25" />
<line x1="538.0" y1="54.3" x2="535.7" y2="51.7" stroke="#2a2a2a" stroke-width="1.25" />
<line x1="538.0" y1="54.3" x2="540.6" y2="52.0" stroke="#2a2a2a" stroke-width="1.25" />
<circle cx="538.0" cy="54.3" r="1.55" fill="#189a5c"/>
<line x1="545.0" y1="59.8" x2="547.1" y2="62.6" stroke="#2a2a2a" stroke-width="1.25" />
<line x1="545.0" y1="59.8" x2="542.2" y2="61.9" stroke="#2a2a2a" stroke-width="1.25" />
<line x1="545.0" y1="59.8" x2="542.9" y2="57.0" stroke="#2a2a2a" stroke-width="1.25" />
<line x1="545.0" y1="59.8" x2="547.8" y2="57.7" stroke="#2a2a2a" stroke-width="1.25" />
<circle cx="545.0" cy="59.8" r="1.55" fill="#189a5c"/>
<g transform="translate(515,43.3) rotate(-15)"><path d="M-2.6,-0.6 Q0,2.4 2.8,-0.8" fill="none" stroke="#e01818" stroke-width="1.7" stroke-linecap="round"/><circle cx="2.9" cy="-0.9" r="0.9" fill="#335"/><circle cx="-2.7" cy="-0.7" r="0.8" fill="#ddd"/></g>
<g transform="translate(501.5,51.8) rotate(-20)"><path d="M-2.6,-0.6 Q0,2.4 2.8,-0.8" fill="none" stroke="#e01818" stroke-width="1.7" stroke-linecap="round"/><circle cx="2.9" cy="-0.9" r="0.9" fill="#335"/><circle cx="-2.7" cy="-0.7" r="0.8" fill="#ddd"/></g>
<g transform="translate(486.5,55.599999999999994) rotate(-15)"><path d="M-2.6,-0.6 Q0,2.4 2.8,-0.8" fill="none" stroke="#e01818" stroke-width="1.7" stroke-linecap="round"/><circle cx="2.9" cy="-0.9" r="0.9" fill="#335"/><circle cx="-2.7" cy="-0.7" r="0.8" fill="#ddd"/></g>
<defs><linearGradient id="cg11" x1="0" y1="0" x2="1" y2="1"><stop offset="0" stop-color="#b4b4ae"/><stop offset="1" stop-color="#64645e"/></linearGradient></defs>
<path d="M532.5,33.8 L542,40.099999999999994 L524.5,56.099999999999994 L514.4,48.8 Z" fill="url(#cg11)" stroke="#2e2e2c" stroke-width="1.4" stroke-linejoin="round"/>
<path d="M514.4,48.8 L524.5,56.099999999999994 L517.3,68.4 Z" fill="#8c8c86" stroke="#3a3a38" stroke-width="0.7" opacity="0.9"/>
<path d="M524.5,59.5 L536.3,59.5 L536.3,57.099999999999994 L542.7,61.8 L536.3,66.5 L536.3,64.1 L524.5,64.1 Z" fill="#1878b8"/>
<path d="M491.8,105.4 L546.4,105.4 L546.4,115.60000000000001 L482.4,115.60000000000001 Z" fill="#fbf9d2"/>
<rect x="482.4" y="115.60000000000001" width="64" height="29" fill="#fdfbd4"/>
<line x1="482.4" y1="115.60000000000001" x2="546.4" y2="115.60000000000001" stroke="#e6e6a8" stroke-width="0.8" />
<rect x="482.4" y="144.60000000000002" width="64" height="6.2" fill="#b4b4b0"/>
<rect x="482.4" y="148.60000000000002" width="64" height="2.2" fill="#cfcfcc"/>
<circle cx="540.9" cy="144.2" r="0.81" fill="#222"/>
<circle cx="502.9" cy="137.4" r="0.87" fill="#fff"/>
<circle cx="495.8" cy="138.2" r="1.14" fill="#999"/>
<circle cx="539.5" cy="134.2" r="1.07" fill="#111"/>
<circle cx="510.5" cy="142.1" r="1.23" fill="#999"/>
<circle cx="520.2" cy="140.7" r="0.92" fill="#1a9a5a"/>
<circle cx="529.2" cy="139.6" r="1.33" fill="#fff"/>
<circle cx="501.3" cy="144.5" r="0.85" fill="#1a9a5a"/>
<circle cx="513.2" cy="141.4" r="1.24" fill="#1a9a5a"/>
<circle cx="525.6" cy="134.8" r="0.90" fill="#333"/>
<circle cx="503.9" cy="142.6" r="1.12" fill="#999"/>
<circle cx="489.1" cy="138.0" r="0.95" fill="#1a9a5a"/>
<circle cx="519.2" cy="142.7" r="0.86" fill="#fff"/>
<circle cx="539.4" cy="139.4" r="1.05" fill="#333"/>
<circle cx="497.4" cy="134.7" r="1.23" fill="#1a9a5a"/>
<circle cx="527.5" cy="142.8" r="0.98" fill="#999"/>
<circle cx="492.8" cy="141.8" r="1.32" fill="#222"/>
<circle cx="494.3" cy="144.5" r="1.15" fill="#111"/>
<circle cx="508.2" cy="134.8" r="1.18" fill="#999"/>
<circle cx="543.9" cy="142.5" r="1.10" fill="#111"/>
<circle cx="544.8" cy="141.8" r="0.81" fill="#fff"/>
<circle cx="532.5" cy="138.7" r="0.84" fill="#111"/>
<circle cx="512.7" cy="135.2" r="1.32" fill="#e03030"/>
<circle cx="497.3" cy="134.1" r="1.16" fill="#1a9a5a"/>
<circle cx="526.5" cy="139.5" r="0.94" fill="#999"/>
<circle cx="509.9" cy="143.6" r="1.22" fill="#e03030"/>
<circle cx="524.4" cy="137.8" r="1.29" fill="#444"/>
<circle cx="526.3" cy="137.8" r="1.33" fill="#111"/>
<circle cx="539.2" cy="141.8" r="0.96" fill="#1a9a5a"/>
<circle cx="509.2" cy="142.1" r="1.14" fill="#1a9a5a"/>
<circle cx="543.3" cy="141.6" r="0.94" fill="#d81818"/>
<circle cx="542.5" cy="133.8" r="1.18" fill="#1a9a5a"/>
<circle cx="491.0" cy="143.5" r="1.24" fill="#e03030"/>
<circle cx="544.8" cy="136.1" r="1.01" fill="#fff"/>
<circle cx="532.3" cy="134.6" r="0.91" fill="#d81818"/>
<circle cx="525.9" cy="135.0" r="1.21" fill="#e03030"/>
<circle cx="542.7" cy="137.9" r="1.06" fill="#ddd"/>
<circle cx="526.4" cy="139.3" r="0.90" fill="#1a9a5a"/>
<circle cx="516.7" cy="136.1" r="0.92" fill="#222"/>
<circle cx="487.8" cy="143.5" r="1.23" fill="#d81818"/>
<circle cx="525.4" cy="140.1" r="1.17" fill="#ddd"/>
<circle cx="509.1" cy="142.5" r="1.33" fill="#ddd"/>
<circle cx="505.0" cy="137.5" r="1.29" fill="#d81818"/>
<circle cx="525.1" cy="141.9" r="1.10" fill="#ddd"/>
<circle cx="526.5" cy="137.5" r="1.34" fill="#ddd"/>
<circle cx="493.0" cy="137.3" r="1.05" fill="#1a9a5a"/>
<circle cx="491.4" cy="139.6" r="0.80" fill="#e03030"/>
<circle cx="486.3" cy="142.2" r="0.94" fill="#222"/>
<circle cx="544.4" cy="140.4" r="1.02" fill="#111"/>
<circle cx="518.8" cy="140.3" r="0.85" fill="#333"/>
<circle cx="529.4" cy="137.6" r="1.00" fill="#1a2ad0"/>
<circle cx="544.6" cy="140.3" r="1.16" fill="#111"/>
<circle cx="494.4" cy="144.5" r="0.90" fill="#111"/>
<circle cx="492.6" cy="141.6" r="1.29" fill="#e03030"/>
<circle cx="502.1" cy="142.4" r="1.25" fill="#111"/>
<circle cx="521.1" cy="139.9" r="0.82" fill="#fff"/>
<circle cx="505.6" cy="134.8" r="0.91" fill="#999"/>
<circle cx="510.2" cy="136.7" r="0.92" fill="#1a9a5a"/>
<circle cx="520.1" cy="144.1" r="1.00" fill="#1a2ad0"/>
<circle cx="524.0" cy="141.8" r="0.97" fill="#111"/>
<circle cx="538.5" cy="144.6" r="0.87" fill="#1a2ad0"/>
<circle cx="507.4" cy="142.1" r="1.07" fill="#111"/>
<circle cx="505.5" cy="135.4" r="1.09" fill="#1a2ad0"/>
<circle cx="496.9" cy="137.7" r="0.82" fill="#111"/>
<circle cx="529.3" cy="138.5" r="1.12" fill="#444"/>
<circle cx="509.5" cy="135.8" r="0.82" fill="#fff"/>
<circle cx="502.2" cy="142.6" r="1.25" fill="#d81818"/>
<circle cx="519.4" cy="144.4" r="1.29" fill="#1a9a5a"/>
<circle cx="522.8" cy="142.6" r="1.31" fill="#444"/>
<circle cx="544.3" cy="140.8" r="1.34" fill="#d81818"/>
<circle cx="512.1" cy="132.9" r="1.01" fill="#1a2ad0"/>
<circle cx="508.0" cy="144.5" r="1.17" fill="#111"/>
<circle cx="544.3" cy="143.3" r="0.89" fill="#111"/>
<circle cx="521.0" cy="133.7" r="1.25" fill="#1a9a5a"/>
<circle cx="512.5" cy="141.8" r="1.03" fill="#222"/>
<circle cx="526.2" cy="144.6" r="0.97" fill="#333"/>
<circle cx="522.2" cy="141.8" r="0.91" fill="#1a9a5a"/>
<circle cx="523.7" cy="143.0" r="1.34" fill="#333"/>
<circle cx="500.5" cy="136.3" r="1.30" fill="#e03030"/>
<circle cx="541.7" cy="139.3" r="1.33" fill="#fff"/>
<circle cx="519.0" cy="143.6" r="0.83" fill="#444"/>
<circle cx="532.0" cy="134.6" r="1.18" fill="#222"/>
<circle cx="503.1" cy="135.9" r="0.84" fill="#1a9a5a"/>
<circle cx="489.0" cy="142.4" r="1.06" fill="#111"/>
<circle cx="541.6" cy="133.3" r="0.95" fill="#ddd"/>
<circle cx="519.2" cy="144.7" r="0.80" fill="#1a2ad0"/>
<circle cx="540.6" cy="143.9" r="1.20" fill="#1a2ad0"/>
<circle cx="488.4" cy="142.7" r="1.26" fill="#444"/>
<circle cx="514.1" cy="141.7" r="0.94" fill="#444"/>
<circle cx="541.0" cy="140.0" r="1.22" fill="#d81818"/>
<circle cx="519.0" cy="139.7" r="0.83" fill="#333"/>
<circle cx="541.8" cy="139.5" r="0.80" fill="#d81818"/>
<circle cx="514.5" cy="138.3" r="1.17" fill="#ddd"/>
<circle cx="521.6" cy="142.8" r="0.97" fill="#999"/>
<circle cx="535.7" cy="134.3" r="0.88" fill="#444"/>
<circle cx="519.9" cy="144.5" r="1.26" fill="#1a9a5a"/>
<circle cx="530.3" cy="135.2" r="1.09" fill="#444"/>
<circle cx="517.0" cy="140.0" r="0.91" fill="#333"/>
<circle cx="487.9" cy="140.7" r="1.25" fill="#222"/>
<circle cx="528.2" cy="144.2" r="0.87" fill="#333"/>
<circle cx="515.3" cy="137.2" r="1.17" fill="#999"/>
<circle cx="507.3" cy="136.9" r="0.85" fill="#333"/>
<circle cx="499.2" cy="137.3" r="1.05" fill="#d81818"/>
<circle cx="493.8" cy="139.4" r="0.98" fill="#999"/>
<circle cx="518.7" cy="144.5" r="1.23" fill="#222"/>
<circle cx="529.3" cy="134.7" r="1.01" fill="#1a9a5a"/>
<circle cx="534.2" cy="134.8" r="0.99" fill="#ddd"/>
<circle cx="496.7" cy="141.3" r="0.99" fill="#1a2ad0"/>
<circle cx="489.7" cy="138.0" r="1.23" fill="#e03030"/>
<circle cx="490.4" cy="139.2" r="1.01" fill="#d81818"/>
<circle cx="529.1" cy="135.0" r="1.32" fill="#1a2ad0"/>
<circle cx="485.5" cy="143.1" r="0.98" fill="#333"/>
<circle cx="493.0" cy="143.0" r="1.22" fill="#1a2ad0"/>
<circle cx="522.5" cy="144.4" r="1.15" fill="#d81818"/>
<circle cx="540.9" cy="134.6" r="0.87" fill="#ddd"/>
<circle cx="500.9" cy="139.4" r="1.15" fill="#1a9a5a"/>
<circle cx="522.2" cy="140.3" r="1.02" fill="#1a9a5a"/>
<circle cx="529.5" cy="140.0" r="1.20" fill="#d81818"/>
<circle cx="528.7" cy="142.6" r="1.23" fill="#fff"/>
<circle cx="517.7" cy="143.4" r="0.99" fill="#e03030"/>
<circle cx="540.9" cy="142.2" r="1.22" fill="#1a2ad0"/>
<circle cx="539.5" cy="137.2" r="1.13" fill="#999"/>
<circle cx="534.1" cy="139.1" r="0.94" fill="#ddd"/>
<circle cx="541.0" cy="144.5" r="0.89" fill="#1a2ad0"/>
<circle cx="517.1" cy="144.6" r="1.20" fill="#e03030"/>
<circle cx="529.9" cy="141.6" r="1.00" fill="#fff"/>
<circle cx="497.6" cy="138.0" r="0.83" fill="#111"/>
<circle cx="507.1" cy="136.6" r="1.20" fill="#333"/>
<circle cx="495.3" cy="143.2" r="1.28" fill="#ddd"/>
<circle cx="505.8" cy="134.1" r="1.00" fill="#1a2ad0"/>
<circle cx="502.1" cy="143.2" r="1.05" fill="#333"/>
<circle cx="529.1" cy="140.3" r="1.22" fill="#1a9a5a"/>
<circle cx="539.4" cy="141.8" r="1.35" fill="#ddd"/>
<circle cx="486.3" cy="140.7" r="1.20" fill="#444"/>
<circle cx="535.8" cy="142.7" r="1.02" fill="#1a9a5a"/>
<circle cx="524.1" cy="134.4" r="1.20" fill="#111"/>
<circle cx="540.2" cy="143.0" r="1.23" fill="#e03030"/>
<circle cx="517.4" cy="134.6" r="0.91" fill="#111"/>
<circle cx="486.3" cy="143.3" r="0.91" fill="#1a9a5a"/>
<circle cx="502.9" cy="138.7" r="0.80" fill="#333"/>
<circle cx="500.6" cy="138.7" r="0.89" fill="#e03030"/>
<circle cx="521.7" cy="138.1" r="0.91" fill="#333"/>
<circle cx="527.7" cy="144.1" r="1.28" fill="#111"/>
<circle cx="491.4" cy="141.7" r="0.90" fill="#ddd"/>
<circle cx="535.2" cy="135.6" r="0.80" fill="#999"/>
<circle cx="526.1" cy="139.0" r="0.85" fill="#d81818"/>
<circle cx="494.9" cy="135.2" r="1.24" fill="#111"/>
<circle cx="539.3" cy="133.7" r="0.80" fill="#111"/>
<circle cx="506.8" cy="141.7" r="1.08" fill="#111"/>
<circle cx="527.0" cy="139.8" r="1.22" fill="#1a2ad0"/>
<circle cx="538.5" cy="135.6" r="1.22" fill="#111"/>
<circle cx="492.2" cy="134.0" r="0.86" fill="#999"/>
<circle cx="545.4" cy="144.1" r="1.18" fill="#222"/>
<circle cx="511.1" cy="136.1" r="1.08" fill="#e03030"/>
<circle cx="533.8" cy="133.4" r="1.10" fill="#111"/>
<circle cx="494.5" cy="136.7" r="1.06" fill="#1a9a5a"/>
<circle cx="534.5" cy="139.7" r="0.97" fill="#999"/>
<circle cx="519.7" cy="133.3" r="1.31" fill="#333"/>
<circle cx="516.0" cy="143.0" r="1.26" fill="#1a9a5a"/>
<circle cx="534.4" cy="138.7" r="0.91" fill="#222"/>
<circle cx="501.6" cy="143.9" r="1.15" fill="#fff"/>
<circle cx="524.8" cy="141.8" r="1.23" fill="#ddd"/>
<circle cx="497.8" cy="135.8" r="0.83" fill="#111"/>
<circle cx="537.5" cy="137.6" r="1.01" fill="#1a9a5a"/>
<circle cx="509.0" cy="144.0" r="0.85" fill="#1a9a5a"/>
<circle cx="515.5" cy="135.6" r="1.18" fill="#d81818"/>
<circle cx="517.3" cy="138.2" r="0.83" fill="#1a2ad0"/>
<circle cx="500.4" cy="137.5" r="1.09" fill="#222"/>
<circle cx="537.3" cy="135.6" r="1.24" fill="#fff"/>
<circle cx="494.8" cy="141.6" r="1.19" fill="#111"/>
<circle cx="544.2" cy="139.1" r="0.91" fill="#444"/>
<circle cx="493.5" cy="134.6" r="0.89" fill="#1a9a5a"/>
<circle cx="539.5" cy="141.7" r="0.89" fill="#e03030"/>
<circle cx="528.7" cy="133.2" r="1.29" fill="#999"/>
<circle cx="510.3" cy="139.7" r="0.88" fill="#fff"/>
<circle cx="541.0" cy="133.3" r="1.13" fill="#1a9a5a"/>
<circle cx="513.7" cy="135.6" r="1.10" fill="#333"/>
<circle cx="541.0" cy="142.0" r="0.84" fill="#e03030"/>
<circle cx="512.2" cy="140.6" r="1.29" fill="#1a9a5a"/>
<circle cx="504.9" cy="141.9" r="1.33" fill="#fff"/>
<circle cx="525.9" cy="136.8" r="0.81" fill="#999"/>
<circle cx="518.9" cy="138.4" r="0.93" fill="#1a9a5a"/>
<circle cx="489.6" cy="140.0" r="0.83" fill="#333"/>
<circle cx="543.3" cy="133.8" r="1.11" fill="#222"/>
<circle cx="496.0" cy="139.2" r="0.93" fill="#fff"/>
<circle cx="521.2" cy="134.3" r="0.98" fill="#fff"/>
<circle cx="518.7" cy="144.1" r="1.19" fill="#444"/>
<circle cx="530.3" cy="134.2" r="1.07" fill="#111"/>
<circle cx="534.4" cy="135.1" r="1.20" fill="#111"/>
<circle cx="516.9" cy="136.1" r="1.13" fill="#999"/>
<circle cx="495.0" cy="140.2" r="1.14" fill="#d81818"/>
<circle cx="508.2" cy="141.8" r="1.34" fill="#ddd"/>
<circle cx="495.0" cy="133.1" r="1.13" fill="#222"/>
<circle cx="533.4" cy="140.0" r="0.85" fill="#333"/>
<circle cx="502.3" cy="140.3" r="1.28" fill="#111"/>
<circle cx="491.8" cy="138.7" r="1.01" fill="#fff"/>
<circle cx="539.9" cy="139.7" r="1.15" fill="#333"/>
<circle cx="531.4" cy="135.9" r="1.22" fill="#fff"/>
<circle cx="526.6" cy="134.7" r="1.32" fill="#d81818"/>
<circle cx="507.7" cy="134.5" r="1.21" fill="#111"/>
<circle cx="492.7" cy="137.1" r="1.01" fill="#111"/>
<circle cx="509.3" cy="139.1" r="1.35" fill="#111"/>
<circle cx="530.1" cy="142.5" r="1.35" fill="#111"/>
<circle cx="512.1" cy="133.9" r="0.81" fill="#1a9a5a"/>
<circle cx="523.3" cy="139.9" r="0.86" fill="#fff"/>
<circle cx="519.1" cy="138.6" r="1.07" fill="#222"/>
<circle cx="534.0" cy="137.8" r="1.21" fill="#e03030"/>
<circle cx="537.4" cy="140.8" r="1.07" fill="#fff"/>
<circle cx="526.4" cy="134.6" r="0.99" fill="#222"/>
<circle cx="534.9" cy="141.9" r="0.86" fill="#111"/>
<circle cx="542.5" cy="141.3" r="1.26" fill="#111"/>
<circle cx="515.5" cy="144.0" r="1.31" fill="#111"/>
<circle cx="541.4" cy="137.1" r="1.14" fill="#e03030"/>
<circle cx="504.0" cy="144.8" r="0.87" fill="#fff"/>
<circle cx="497.6" cy="141.1" r="0.81" fill="#1a9a5a"/>
<circle cx="503.0" cy="133.0" r="1.24" fill="#111"/>
<circle cx="497.7" cy="133.1" r="1.08" fill="#222"/>
<circle cx="516.3" cy="138.2" r="1.16" fill="#1a9a5a"/>
<circle cx="524.7" cy="138.9" r="1.26" fill="#d81818"/>
<circle cx="502.2" cy="141.0" r="0.99" fill="#222"/>
<circle cx="520.0" cy="140.7" r="1.00" fill="#1a9a5a"/>
<circle cx="507.2" cy="138.3" r="0.88" fill="#999"/>
<circle cx="495.1" cy="134.1" r="0.94" fill="#1a9a5a"/>
<circle cx="514.2" cy="142.0" r="0.86" fill="#111"/>
<circle cx="534.7" cy="136.0" r="1.15" fill="#e03030"/>
<circle cx="506.4" cy="144.5" r="0.92" fill="#1a2ad0"/>
<circle cx="505.5" cy="144.3" r="0.91" fill="#1a2ad0"/>
<circle cx="532.6" cy="137.6" r="0.84" fill="#111"/>
<circle cx="541.7" cy="140.3" r="0.82" fill="#d81818"/>
<circle cx="489.1" cy="138.9" r="0.90" fill="#fff"/>
<circle cx="532.2" cy="134.6" r="1.06" fill="#ddd"/>
<circle cx="537.3" cy="138.8" r="0.99" fill="#fff"/>
<circle cx="501.6" cy="135.7" r="1.23" fill="#1a9a5a"/>
<circle cx="488.4" cy="141.6" r="1.33" fill="#222"/>
<circle cx="498.6" cy="140.7" r="1.34" fill="#1a9a5a"/>
<circle cx="525.2" cy="143.1" r="0.95" fill="#d81818"/>
<circle cx="511.9" cy="133.4" r="1.32" fill="#999"/>
<circle cx="490.4" cy="134.7" r="1.35" fill="#1a9a5a"/>
<circle cx="504.2" cy="143.0" r="0.97" fill="#fff"/>
<circle cx="538.9" cy="133.3" r="0.88" fill="#333"/>
<circle cx="508.3" cy="137.0" r="1.12" fill="#333"/>
<circle cx="499.2" cy="141.9" r="0.89" fill="#ddd"/>
<circle cx="510.5" cy="143.7" r="1.14" fill="#1a2ad0"/>
<circle cx="486.5" cy="144.2" r="1.03" fill="#1a9a5a"/>
<circle cx="498.3" cy="133.1" r="1.25" fill="#ddd"/>
<circle cx="534.4" cy="143.4" r="1.07" fill="#999"/>
<circle cx="494.4" cy="143.1" r="1.20" fill="#1a9a5a"/>
<circle cx="512.4" cy="134.6" r="0.81" fill="#444"/>
<circle cx="541.0" cy="142.6" r="1.28" fill="#d81818"/>
<circle cx="506.7" cy="140.4" r="1.03" fill="#e03030"/>
<circle cx="530.7" cy="138.7" r="0.97" fill="#fff"/>
<circle cx="518.5" cy="133.7" r="0.94" fill="#111"/>
<circle cx="490.8" cy="136.2" r="1.34" fill="#1a2ad0"/>
<circle cx="528.4" cy="134.7" r="1.21" fill="#1a9a5a"/>
<circle cx="511.8" cy="141.6" r="0.95" fill="#fff"/>
<circle cx="542.1" cy="140.0" r="0.89" fill="#1a9a5a"/>
<circle cx="489.7" cy="138.0" r="1.23" fill="#444"/>
<circle cx="513.7" cy="134.7" r="1.13" fill="#fff"/>
<circle cx="505.4" cy="140.1" r="1.08" fill="#1a9a5a"/>
<circle cx="523.1" cy="137.6" r="0.92" fill="#111"/>
<circle cx="534.4" cy="143.1" r="1.08" fill="#1a9a5a"/>
<circle cx="486.5" cy="142.6" r="0.82" fill="#222"/>
<circle cx="543.3" cy="144.1" r="1.05" fill="#444"/>
<circle cx="511.1" cy="139.2" r="0.90" fill="#1a2ad0"/>
<circle cx="517.3" cy="134.9" r="1.29" fill="#222"/>
<circle cx="490.7" cy="133.1" r="0.81" fill="#111"/>
<circle cx="533.8" cy="134.8" r="1.23" fill="#111"/>
<circle cx="500.3" cy="142.7" r="0.83" fill="#ddd"/>
<circle cx="501.7" cy="138.1" r="0.85" fill="#1a2ad0"/>
<circle cx="528.8" cy="139.8" r="0.86" fill="#444"/>
<circle cx="501.2" cy="142.0" r="1.08" fill="#444"/>
<circle cx="517.5" cy="137.1" r="0.96" fill="#1a2ad0"/>
<circle cx="506.2" cy="134.8" r="1.14" fill="#ddd"/>
<circle cx="500.2" cy="138.6" r="0.93" fill="#e03030"/>
<circle cx="533.7" cy="143.0" r="1.06" fill="#fff"/>
<circle cx="539.7" cy="137.4" r="1.14" fill="#fff"/>
<circle cx="530.4" cy="136.7" r="1.00" fill="#fff"/>
<circle cx="528.0" cy="134.5" r="1.10" fill="#999"/>
<circle cx="495.7" cy="133.9" r="0.91" fill="#111"/>
<circle cx="490.0" cy="138.2" r="1.25" fill="#1a9a5a"/>
<circle cx="516.9" cy="140.6" r="1.00" fill="#d81818"/>
<circle cx="490.7" cy="141.6" r="0.88" fill="#111"/>
<circle cx="503.1" cy="141.0" r="0.98" fill="#111"/>
<circle cx="523.6" cy="133.0" r="0.88" fill="#111"/>
<circle cx="507.1" cy="143.9" r="1.16" fill="#444"/>
<circle cx="510.3" cy="141.0" r="1.06" fill="#444"/>
<circle cx="512.2" cy="133.6" r="1.04" fill="#1a2ad0"/>
<circle cx="493.7" cy="141.6" r="1.07" fill="#d81818"/>
<circle cx="508.3" cy="137.1" r="0.85" fill="#ddd"/>
<circle cx="532.1" cy="142.6" r="0.80" fill="#222"/>
<circle cx="508.3" cy="134.9" r="1.27" fill="#1a9a5a"/>
<circle cx="528.0" cy="140.1" r="1.34" fill="#1a2ad0"/>
<circle cx="503.7" cy="136.0" r="1.14" fill="#fff"/>
<circle cx="504.0" cy="133.3" r="1.19" fill="#111"/>
<circle cx="516.6" cy="133.7" r="0.87" fill="#111"/>
<circle cx="502.2" cy="139.4" r="1.14" fill="#e03030"/>
<circle cx="543.3" cy="134.7" r="0.90" fill="#333"/>
<circle cx="491.2" cy="141.2" r="1.29" fill="#333"/>
<circle cx="525.6" cy="138.9" r="1.32" fill="#111"/>
<circle cx="533.5" cy="137.5" r="1.24" fill="#444"/>
<circle cx="535.5" cy="140.6" r="1.24" fill="#1a2ad0"/>
<circle cx="532.4" cy="143.2" r="0.92" fill="#ddd"/>
<circle cx="493.1" cy="142.2" r="1.08" fill="#fff"/>
<circle cx="514.4" cy="138.5" r="0.99" fill="#111"/>
<circle cx="497.1" cy="143.1" r="1.07" fill="#111"/>
<circle cx="538.4" cy="138.5" r="1.07" fill="#1a9a5a"/>
<circle cx="501.8" cy="138.7" r="1.14" fill="#d81818"/>
<circle cx="504.5" cy="134.7" r="1.12" fill="#1a9a5a"/>
<circle cx="536.8" cy="142.7" r="1.21" fill="#111"/>
<circle cx="539.3" cy="142.0" r="1.04" fill="#d81818"/>
<circle cx="509.9" cy="144.2" r="1.06" fill="#111"/>
<circle cx="525.7" cy="134.1" r="1.18" fill="#111"/>
<circle cx="489.4" cy="139.9" r="1.27" fill="#fff"/>
<circle cx="512.5" cy="139.4" r="1.34" fill="#111"/>
<circle cx="514.6" cy="133.0" r="1.10" fill="#1a9a5a"/>
<circle cx="533.2" cy="139.3" r="0.93" fill="#222"/>
<line x1="499.4" y1="110.4" x2="501.1" y2="113.5" stroke="#2a2a2a" stroke-width="1.25" />
<line x1="499.4" y1="110.4" x2="496.3" y2="112.1" stroke="#2a2a2a" stroke-width="1.25" />
<line x1="499.4" y1="110.4" x2="497.7" y2="107.3" stroke="#2a2a2a" stroke-width="1.25" />
<line x1="499.4" y1="110.4" x2="502.5" y2="108.7" stroke="#2a2a2a" stroke-width="1.25" />
<circle cx="499.4" cy="110.4" r="1.55" fill="#189a5c"/>
<line x1="493.0" y1="125.9" x2="496.1" y2="127.6" stroke="#2a2a2a" stroke-width="1.25" />
<line x1="493.0" y1="125.9" x2="491.3" y2="129.0" stroke="#2a2a2a" stroke-width="1.25" />
<line x1="493.0" y1="125.9" x2="489.9" y2="124.2" stroke="#2a2a2a" stroke-width="1.25" />
<line x1="493.0" y1="125.9" x2="494.7" y2="122.8" stroke="#2a2a2a" stroke-width="1.25" />
<circle cx="493.0" cy="125.9" r="1.55" fill="#189a5c"/>
<line x1="507.5" y1="125.9" x2="509.9" y2="128.5" stroke="#2a2a2a" stroke-width="1.25" />
<line x1="507.5" y1="125.9" x2="504.9" y2="128.3" stroke="#2a2a2a" stroke-width="1.25" />
<line x1="507.5" y1="125.9" x2="505.1" y2="123.3" stroke="#2a2a2a" stroke-width="1.25" />
<line x1="507.5" y1="125.9" x2="510.1" y2="123.5" stroke="#2a2a2a" stroke-width="1.25" />
<circle cx="507.5" cy="125.9" r="1.55" fill="#189a5c"/>
<line x1="538.0" y1="120.9" x2="540.5" y2="123.3" stroke="#2a2a2a" stroke-width="1.25" />
<line x1="538.0" y1="120.9" x2="535.6" y2="123.4" stroke="#2a2a2a" stroke-width="1.25" />
<line x1="538.0" y1="120.9" x2="535.5" y2="118.5" stroke="#2a2a2a" stroke-width="1.25" />
<line x1="538.0" y1="120.9" x2="540.4" y2="118.4" stroke="#2a2a2a" stroke-width="1.25" />
<circle cx="538.0" cy="120.9" r="1.55" fill="#189a5c"/>
<line x1="545.0" y1="126.4" x2="548.0" y2="128.1" stroke="#2a2a2a" stroke-width="1.25" />
<line x1="545.0" y1="126.4" x2="543.3" y2="129.4" stroke="#2a2a2a" stroke-width="1.25" />
<line x1="545.0" y1="126.4" x2="542.0" y2="124.7" stroke="#2a2a2a" stroke-width="1.25" />
<line x1="545.0" y1="126.4" x2="546.7" y2="123.4" stroke="#2a2a2a" stroke-width="1.25" />
<circle cx="545.0" cy="126.4" r="1.55" fill="#189a5c"/>
<g transform="translate(515,109.9) rotate(-15)"><path d="M-2.6,-0.6 Q0,2.4 2.8,-0.8" fill="none" stroke="#e01818" stroke-width="1.7" stroke-linecap="round"/><circle cx="2.9" cy="-0.9" r="0.9" fill="#335"/><circle cx="-2.7" cy="-0.7" r="0.8" fill="#ddd"/></g>
<g transform="translate(501.5,118.4) rotate(-20)"><path d="M-2.6,-0.6 Q0,2.4 2.8,-0.8" fill="none" stroke="#e01818" stroke-width="1.7" stroke-linecap="round"/><circle cx="2.9" cy="-0.9" r="0.9" fill="#335"/><circle cx="-2.7" cy="-0.7" r="0.8" fill="#ddd"/></g>
<g transform="translate(486.5,122.2) rotate(-15)"><path d="M-2.6,-0.6 Q0,2.4 2.8,-0.8" fill="none" stroke="#e01818" stroke-width="1.7" stroke-linecap="round"/><circle cx="2.9" cy="-0.9" r="0.9" fill="#335"/><circle cx="-2.7" cy="-0.7" r="0.8" fill="#ddd"/></g>
<defs><linearGradient id="cg23" x1="0" y1="0" x2="1" y2="1"><stop offset="0" stop-color="#b4b4ae"/><stop offset="1" stop-color="#64645e"/></linearGradient></defs>
<path d="M532.5,100.4 L542,106.7 L524.5,122.7 L514.4,115.4 Z" fill="url(#cg23)" stroke="#2e2e2c" stroke-width="1.4" stroke-linejoin="round"/>
<path d="M514.4,115.4 L524.5,122.7 L517.3,135.0 Z" fill="#8c8c86" stroke="#3a3a38" stroke-width="0.7" opacity="0.9"/>
<path d="M524.5,126.10000000000001 L536.3,126.10000000000001 L536.3,123.7 L542.7,128.4 L536.3,133.1 L536.3,130.70000000000002 L524.5,130.70000000000002 Z" fill="#1878b8"/>
<defs>
<linearGradient id="bgL" x1="0" y1="0" x2="1" y2="0"><stop offset="0" stop-color="#c85512"/><stop offset="0.35" stop-color="#c6521a"/><stop offset="0.6" stop-color="#c24830"/><stop offset="1" stop-color="#bc4034"/></linearGradient>
<linearGradient id="cb" x1="0" y1="0" x2="0" y2="1">
<stop offset="0" stop-color="#ffffff"/><stop offset="0.05" stop-color="#ffffd0"/><stop offset="0.15" stop-color="#fcf878"/><stop offset="0.245" stop-color="#f0e22c"/><stop offset="0.26" stop-color="#e6c41e"/><stop offset="0.375" stop-color="#dc9014"/><stop offset="0.495" stop-color="#cc6210"/><stop offset="0.505" stop-color="#c84a3c"/><stop offset="0.6" stop-color="#c03c68"/><stop offset="0.7" stop-color="#a02890"/><stop offset="0.75" stop-color="#6c1290"/><stop offset="0.82" stop-color="#44087a"/><stop offset="0.92" stop-color="#200448"/><stop offset="1" stop-color="#080210"/></linearGradient>
<filter id="noise" x="0" y="0" width="1" height="1" color-interpolation-filters="sRGB"><feTurbulence type="fractalNoise" baseFrequency="0.55" numOctaves="2" seed="3" result="n"/><feColorMatrix in="n" type="matrix" values="0.06 0 0 0 0.77  0.17 -0.09 0 0 0.295  0 0.2 0 0 -0.055  0 0 0 0 1"/><feComposite in2="SourceGraphic" operator="in"/></filter>
</defs>
<rect x="93.2" y="200.2" width="166.7" height="166.1" fill="url(#bgL)"/>
<path d="M154.5,225.1 C152.2,226.7 144.8,231.4 140.9,234.6 C136.9,237.7 133.8,240.9 130.9,244.1 C128.1,247.2 125.8,250.4 123.8,253.6 C121.8,256.7 120.3,259.9 119.0,263.0 C117.7,266.2 116.8,269.4 116.1,272.5 C115.4,275.7 115.1,278.8 115.0,282.0 C114.9,285.2 115.1,288.3 115.6,291.5 C116.1,294.7 116.9,297.8 118.0,301.0 C119.1,304.1 120.4,307.3 122.0,310.5 C123.6,313.6 125.4,316.8 127.4,319.9 C129.4,323.1 131.7,326.3 134.0,329.4 C136.3,332.6 138.8,335.8 141.1,338.9 C143.4,342.1 146.8,346.8 147.9,348.4" fill="none" stroke="#5a1a8c" stroke-width="3.9" stroke-linecap="butt" transform="translate(0.15,0.1)"/>
<path d="M160.0,224.3 C157.9,225.9 151.1,230.7 147.3,233.9 C143.5,237.1 140.2,240.3 137.2,243.5 C134.3,246.6 131.8,249.8 129.7,253.0 C127.6,256.2 125.9,259.4 124.6,262.6 C123.3,265.8 122.4,269.0 121.8,272.2 C121.2,275.4 121.0,278.6 121.1,281.8 C121.2,285.0 121.7,288.1 122.4,291.3 C123.1,294.5 124.2,297.7 125.4,300.9 C126.6,304.1 128.2,307.3 129.9,310.5 C131.5,313.7 133.5,316.9 135.4,320.1 C137.4,323.3 139.6,326.5 141.7,329.6 C143.9,332.8 146.2,336.0 148.3,339.2 C150.4,342.4 153.5,347.2 154.5,348.8" fill="none" stroke="#5a1a8c" stroke-width="3.9" stroke-linecap="butt" transform="translate(0.15,0.1)"/>
<path d="M164.6,223.9 C162.8,225.5 157.0,230.3 153.5,233.5 C150.0,236.7 146.5,240.0 143.5,243.2 C140.5,246.4 137.8,249.6 135.6,252.8 C133.4,256.0 131.6,259.2 130.2,262.4 C128.9,265.6 128.0,268.8 127.5,272.1 C127.1,275.3 127.1,278.5 127.4,281.7 C127.7,284.9 128.4,288.1 129.3,291.3 C130.3,294.5 131.6,297.7 133.0,300.9 C134.4,304.2 136.1,307.4 137.8,310.6 C139.5,313.8 141.4,317.0 143.3,320.2 C145.2,323.4 147.2,326.6 149.3,329.8 C151.3,333.0 153.4,336.3 155.6,339.5 C157.8,342.7 161.3,347.5 162.5,349.1" fill="none" stroke="#5a1a8c" stroke-width="3.9" stroke-linecap="butt" transform="translate(0.15,0.1)"/>
<path d="M168.3,223.6 C166.8,225.2 162.4,230.1 159.4,233.3 C156.4,236.5 153.0,239.8 150.2,243.0 C147.4,246.3 144.6,249.5 142.4,252.7 C140.2,256.0 138.3,259.2 137.0,262.4 C135.6,265.7 134.7,268.9 134.3,272.1 C133.8,275.4 133.9,278.6 134.3,281.8 C134.6,285.1 135.5,288.3 136.5,291.6 C137.6,294.8 139.0,298.0 140.5,301.3 C142.0,304.5 143.8,307.7 145.5,311.0 C147.3,314.2 149.2,317.4 151.1,320.7 C152.9,323.9 154.8,327.1 156.8,330.4 C158.7,333.6 160.6,336.9 162.6,340.1 C164.6,343.3 167.9,348.2 169.0,349.8" fill="none" stroke="#5a1a8c" stroke-width="3.9" stroke-linecap="butt" transform="translate(0.15,0.1)"/>
<path d="M171.2,222.5 C170.3,224.1 167.9,229.1 165.8,232.4 C163.6,235.7 160.7,239.0 158.2,242.3 C155.8,245.6 153.1,248.9 151.1,252.2 C149.0,255.4 147.1,258.7 145.8,262.0 C144.5,265.3 143.5,268.6 143.1,271.9 C142.6,275.2 142.7,278.5 143.0,281.8 C143.4,285.1 144.2,288.4 145.2,291.7 C146.2,295.0 147.6,298.3 149.0,301.6 C150.4,304.9 152.0,308.2 153.6,311.5 C155.2,314.8 156.9,318.1 158.4,321.3 C160.0,324.6 161.5,327.9 163.1,331.2 C164.6,334.5 165.9,337.8 167.5,341.1 C169.1,344.4 171.7,349.4 172.5,351.0" fill="none" stroke="#5a1a8c" stroke-width="3.9" stroke-linecap="butt" transform="translate(0.15,0.1)"/>
<path d="M179.3,212.4 C179.0,213.2 178.3,215.7 177.6,217.5 C176.9,219.3 176.4,220.4 175.2,223.0 C173.9,225.6 171.9,229.6 170.1,233.0 C168.3,236.3 166.1,239.6 164.3,242.9 C162.5,246.2 160.7,249.6 159.3,252.9 C158.0,256.2 156.8,259.5 156.0,262.8 C155.2,266.2 154.8,269.5 154.6,272.8 C154.5,276.1 154.7,279.4 155.1,282.8 C155.5,286.1 156.2,289.4 157.0,292.7 C157.8,296.1 158.9,299.4 159.9,302.7 C160.9,306.0 162.1,309.3 163.1,312.7 C164.1,316.0 165.2,319.3 166.2,322.6 C167.1,325.9 168.0,329.3 168.8,332.6 C169.7,335.9 170.4,339.2 171.2,342.5 C172.1,345.9 173.5,350.8 174.0,352.5" fill="none" stroke="#5a1a8c" stroke-width="3.9" stroke-linecap="butt" transform="translate(0.15,0.1)"/>
<path d="M179.3,212.4 C179.0,213.2 178.2,215.6 177.6,217.5 C177.0,219.4 176.9,221.2 176.0,224.0 C175.1,226.8 173.4,230.7 172.4,234.0 C171.3,237.3 170.5,240.7 169.8,244.0 C169.0,247.3 168.5,250.7 168.0,254.0 C167.6,257.3 167.2,260.7 167.0,264.0 C166.8,267.3 166.6,270.7 166.6,274.0 C166.5,277.3 166.6,280.7 166.7,284.0 C166.8,287.3 166.9,290.7 167.1,294.0 C167.3,297.3 167.6,300.7 167.9,304.0 C168.2,307.3 168.6,310.7 169.0,314.0 C169.4,317.3 169.8,320.7 170.2,324.0 C170.7,327.3 171.2,330.7 171.7,334.0 C172.3,337.3 172.8,340.7 173.5,344.0 C174.1,347.3 175.2,352.3 175.5,354.0" fill="none" stroke="#5a1a8c" stroke-width="3.9" stroke-linecap="butt" transform="translate(0.15,0.1)"/>
<path d="M154.5,225.1 C152.2,226.7 144.8,231.4 140.9,234.6 C136.9,237.7 133.8,240.9 130.9,244.1 C128.1,247.2 125.8,250.4 123.8,253.6 C121.8,256.7 120.3,259.9 119.0,263.0 C117.7,266.2 116.8,269.4 116.1,272.5 C115.4,275.7 115.1,278.8 115.0,282.0 C114.9,285.2 115.1,288.3 115.6,291.5 C116.1,294.7 116.9,297.8 118.0,301.0 C119.1,304.1 120.4,307.3 122.0,310.5 C123.6,313.6 125.4,316.8 127.4,319.9 C129.4,323.1 131.7,326.3 134.0,329.4 C136.3,332.6 138.8,335.8 141.1,338.9 C143.4,342.1 146.8,346.8 147.9,348.4" fill="none" stroke="#0c0416" stroke-width="3.0" stroke-linecap="butt"/>
<path d="M160.0,224.3 C157.9,225.9 151.1,230.7 147.3,233.9 C143.5,237.1 140.2,240.3 137.2,243.5 C134.3,246.6 131.8,249.8 129.7,253.0 C127.6,256.2 125.9,259.4 124.6,262.6 C123.3,265.8 122.4,269.0 121.8,272.2 C121.2,275.4 121.0,278.6 121.1,281.8 C121.2,285.0 121.7,288.1 122.4,291.3 C123.1,294.5 124.2,297.7 125.4,300.9 C126.6,304.1 128.2,307.3 129.9,310.5 C131.5,313.7 133.5,316.9 135.4,320.1 C137.4,323.3 139.6,326.5 141.7,329.6 C143.9,332.8 146.2,336.0 148.3,339.2 C150.4,342.4 153.5,347.2 154.5,348.8" fill="none" stroke="#0c0416" stroke-width="3.0" stroke-linecap="butt"/>
<path d="M164.6,223.9 C162.8,225.5 157.0,230.3 153.5,233.5 C150.0,236.7 146.5,240.0 143.5,243.2 C140.5,246.4 137.8,249.6 135.6,252.8 C133.4,256.0 131.6,259.2 130.2,262.4 C128.9,265.6 128.0,268.8 127.5,272.1 C127.1,275.3 127.1,278.5 127.4,281.7 C127.7,284.9 128.4,288.1 129.3,291.3 C130.3,294.5 131.6,297.7 133.0,300.9 C134.4,304.2 136.1,307.4 137.8,310.6 C139.5,313.8 141.4,317.0 143.3,320.2 C145.2,323.4 147.2,326.6 149.3,329.8 C151.3,333.0 153.4,336.3 155.6,339.5 C157.8,342.7 161.3,347.5 162.5,349.1" fill="none" stroke="#0c0416" stroke-width="3.0" stroke-linecap="butt"/>
<path d="M168.3,223.6 C166.8,225.2 162.4,230.1 159.4,233.3 C156.4,236.5 153.0,239.8 150.2,243.0 C147.4,246.3 144.6,249.5 142.4,252.7 C140.2,256.0 138.3,259.2 137.0,262.4 C135.6,265.7 134.7,268.9 134.3,272.1 C133.8,275.4 133.9,278.6 134.3,281.8 C134.6,285.1 135.5,288.3 136.5,291.6 C137.6,294.8 139.0,298.0 140.5,301.3 C142.0,304.5 143.8,307.7 145.5,311.0 C147.3,314.2 149.2,317.4 151.1,320.7 C152.9,323.9 154.8,327.1 156.8,330.4 C158.7,333.6 160.6,336.9 162.6,340.1 C164.6,343.3 167.9,348.2 169.0,349.8" fill="none" stroke="#0c0416" stroke-width="3.0" stroke-linecap="butt"/>
<path d="M171.2,222.5 C170.3,224.1 167.9,229.1 165.8,232.4 C163.6,235.7 160.7,239.0 158.2,242.3 C155.8,245.6 153.1,248.9 151.1,252.2 C149.0,255.4 147.1,258.7 145.8,262.0 C144.5,265.3 143.5,268.6 143.1,271.9 C142.6,275.2 142.7,278.5 143.0,281.8 C143.4,285.1 144.2,288.4 145.2,291.7 C146.2,295.0 147.6,298.3 149.0,301.6 C150.4,304.9 152.0,308.2 153.6,311.5 C155.2,314.8 156.9,318.1 158.4,321.3 C160.0,324.6 161.5,327.9 163.1,331.2 C164.6,334.5 165.9,337.8 167.5,341.1 C169.1,344.4 171.7,349.4 172.5,351.0" fill="none" stroke="#0c0416" stroke-width="3.0" stroke-linecap="butt"/>
<path d="M179.3,212.4 C179.0,213.2 178.3,215.7 177.6,217.5 C176.9,219.3 176.4,220.4 175.2,223.0 C173.9,225.6 171.9,229.6 170.1,233.0 C168.3,236.3 166.1,239.6 164.3,242.9 C162.5,246.2 160.7,249.6 159.3,252.9 C158.0,256.2 156.8,259.5 156.0,262.8 C155.2,266.2 154.8,269.5 154.6,272.8 C154.5,276.1 154.7,279.4 155.1,282.8 C155.5,286.1 156.2,289.4 157.0,292.7 C157.8,296.1 158.9,299.4 159.9,302.7 C160.9,306.0 162.1,309.3 163.1,312.7 C164.1,316.0 165.2,319.3 166.2,322.6 C167.1,325.9 168.0,329.3 168.8,332.6 C169.7,335.9 170.4,339.2 171.2,342.5 C172.1,345.9 173.5,350.8 174.0,352.5" fill="none" stroke="#0c0416" stroke-width="3.0" stroke-linecap="butt"/>
<path d="M179.3,212.4 C179.0,213.2 178.2,215.6 177.6,217.5 C177.0,219.4 176.9,221.2 176.0,224.0 C175.1,226.8 173.4,230.7 172.4,234.0 C171.3,237.3 170.5,240.7 169.8,244.0 C169.0,247.3 168.5,250.7 168.0,254.0 C167.6,257.3 167.2,260.7 167.0,264.0 C166.8,267.3 166.6,270.7 166.6,274.0 C166.5,277.3 166.6,280.7 166.7,284.0 C166.8,287.3 166.9,290.7 167.1,294.0 C167.3,297.3 167.6,300.7 167.9,304.0 C168.2,307.3 168.6,310.7 169.0,314.0 C169.4,317.3 169.8,320.7 170.2,324.0 C170.7,327.3 171.2,330.7 171.7,334.0 C172.3,337.3 172.8,340.7 173.5,344.0 C174.1,347.3 175.2,352.3 175.5,354.0" fill="none" stroke="#0c0416" stroke-width="3.0" stroke-linecap="butt"/>
<clipPath id="clL"><rect x="108.3" y="286" width="41" height="61"/></clipPath>
<path d="M154.5,225.1 C152.2,226.7 144.8,231.4 140.9,234.6 C136.9,237.7 133.8,240.9 130.9,244.1 C128.1,247.2 125.8,250.4 123.8,253.6 C121.8,256.7 120.3,259.9 119.0,263.0 C117.7,266.2 116.8,269.4 116.1,272.5 C115.4,275.7 115.1,278.8 115.0,282.0 C114.9,285.2 115.1,288.3 115.6,291.5 C116.1,294.7 116.9,297.8 118.0,301.0 C119.1,304.1 120.4,307.3 122.0,310.5 C123.6,313.6 125.4,316.8 127.4,319.9 C129.4,323.1 131.7,326.3 134.0,329.4 C136.3,332.6 138.8,335.8 141.1,338.9 C143.4,342.1 146.8,346.8 147.9,348.4" fill="none" stroke="#c8d020" stroke-width="0.9" clip-path="url(#clL)"/>
<path d="M173.2,209.3 L177.4,209.3 L177.9,300 L177.6,352 Q177.4,358 175.2,358 Q172.8,358 172.9,352 L173.4,300 Z" fill="#fff"/>
<path d="M177.6,340 Q179.6,350 178.4,356 L177.2,357 Z" fill="#14061e"/>
<rect x="108.3" y="284.8" width="41.3" height="69.2" fill="none" stroke="#f0e0d0" stroke-width="0.7" stroke-dasharray="1.2 0.8" opacity="0.7"/>
<circle cx="189.8" cy="257.1" r="1.3" fill="#fff2b0"/>
<circle cx="242.7" cy="290" r="1.0" fill="#fff2b0"/>
<circle cx="171.5" cy="359" r="0.9" fill="#fff2b0"/>
<ellipse cx="247.3" cy="365.4" rx="3" ry="1.6" fill="#fff"/>
<circle cx="237" cy="331" r="1.6" fill="none" stroke="#d87030" stroke-width="0.6"/>
<text x="96.9" y="213.6" font-size="10" fill="#3c1400" font-weight="normal" text-anchor="start" textLength="39.4" lengthAdjust="spacingAndGlyphs" stroke="#3c1400" stroke-width="0.25">NW after</text>
<text x="96.9" y="223.8" font-size="10" fill="#3c1400" font-weight="normal" text-anchor="start" textLength="56" lengthAdjust="spacingAndGlyphs" stroke="#3c1400" stroke-width="0.25">manipulation</text>
<text x="190" y="215.6" font-size="10" fill="#3c1400" font-weight="normal" text-anchor="start" textLength="47.6" lengthAdjust="spacingAndGlyphs" stroke="#3c1400" stroke-width="0.25">NW before</text>
<text x="190" y="225.5" font-size="10" fill="#3c1400" font-weight="normal" text-anchor="start" textLength="56" lengthAdjust="spacingAndGlyphs" stroke="#3c1400" stroke-width="0.25">manipulation</text>
<text x="192.6" y="271.6" font-size="10" fill="#3c1400" font-weight="normal" text-anchor="start" textLength="56.4" lengthAdjust="spacingAndGlyphs" stroke="#3c1400" stroke-width="0.25">Manipulation</text>
<text x="192.6" y="280.7" font-size="10" fill="#3c1400" font-weight="normal" text-anchor="start" textLength="36.1" lengthAdjust="spacingAndGlyphs" stroke="#3c1400" stroke-width="0.25">direction</text>
<line x1="114.7" y1="227.0" x2="128.6" y2="236.3" stroke="#140800" stroke-width="0.9" />
<path d="M133.8,239.8 L127.5,238.0 L129.8,234.7 Z" fill="#140800"/>
<line x1="202.0" y1="230.1" x2="184.9" y2="235.4" stroke="#140800" stroke-width="0.9" />
<path d="M179.0,237.3 L184.3,233.5 L185.5,237.4 Z" fill="#140800"/>
<line x1="213.4" y1="285.6" x2="187.9" y2="285.6" stroke="#140800" stroke-width="1.7" />
<path d="M180.4,285.6 L187.9,283.0 L187.9,288.2 Z" fill="#140800"/>
<line x1="88.60000000000001" y1="366.0" x2="93.2" y2="366.0" stroke="#222" stroke-width="0.9" />
<text x="86.60000000000001" y="368.1" font-size="6.0" fill="#222" font-weight="bold" text-anchor="end" >0</text>
<line x1="93.5" y1="366.3" x2="93.5" y2="370.6" stroke="#222" stroke-width="0.9" />
<text x="93.5" y="378.9" font-size="6.0" fill="#222" font-weight="bold" text-anchor="middle" >0</text>
<line x1="88.60000000000001" y1="338.4" x2="93.2" y2="338.4" stroke="#222" stroke-width="0.9" />
<text x="86.60000000000001" y="340.6" font-size="6.0" fill="#222" font-weight="bold" text-anchor="end" >2</text>
<line x1="121.2" y1="366.3" x2="121.2" y2="370.6" stroke="#222" stroke-width="0.9" />
<text x="121.2" y="378.9" font-size="6.0" fill="#222" font-weight="bold" text-anchor="middle" >2</text>
<line x1="88.60000000000001" y1="310.9" x2="93.2" y2="310.9" stroke="#222" stroke-width="0.9" />
<text x="86.60000000000001" y="313.0" font-size="6.0" fill="#222" font-weight="bold" text-anchor="end" >4</text>
<line x1="148.9" y1="366.3" x2="148.9" y2="370.6" stroke="#222" stroke-width="0.9" />
<text x="148.9" y="378.9" font-size="6.0" fill="#222" font-weight="bold" text-anchor="middle" >4</text>
<line x1="88.60000000000001" y1="283.4" x2="93.2" y2="283.4" stroke="#222" stroke-width="0.9" />
<text x="86.60000000000001" y="285.5" font-size="6.0" fill="#222" font-weight="bold" text-anchor="end" >6</text>
<line x1="176.7" y1="366.3" x2="176.7" y2="370.6" stroke="#222" stroke-width="0.9" />
<text x="176.7" y="378.9" font-size="6.0" fill="#222" font-weight="bold" text-anchor="middle" >6</text>
<line x1="88.60000000000001" y1="255.8" x2="93.2" y2="255.8" stroke="#222" stroke-width="0.9" />
<text x="86.60000000000001" y="257.9" font-size="6.0" fill="#222" font-weight="bold" text-anchor="end" >8</text>
<line x1="204.4" y1="366.3" x2="204.4" y2="370.6" stroke="#222" stroke-width="0.9" />
<text x="204.4" y="378.9" font-size="6.0" fill="#222" font-weight="bold" text-anchor="middle" >8</text>
<line x1="88.60000000000001" y1="228.2" x2="93.2" y2="228.2" stroke="#222" stroke-width="0.9" />
<text x="86.60000000000001" y="230.3" font-size="6.0" fill="#222" font-weight="bold" text-anchor="end" >10</text>
<line x1="232.1" y1="366.3" x2="232.1" y2="370.6" stroke="#222" stroke-width="0.9" />
<text x="232.1" y="378.9" font-size="6.0" fill="#222" font-weight="bold" text-anchor="middle" >10</text>
<line x1="88.60000000000001" y1="200.7" x2="93.2" y2="200.7" stroke="#222" stroke-width="0.9" />
<text x="86.60000000000001" y="202.8" font-size="6.0" fill="#222" font-weight="bold" text-anchor="end" >12</text>
<line x1="259.8" y1="366.3" x2="259.8" y2="370.6" stroke="#222" stroke-width="0.9" />
<text x="259.8" y="378.9" font-size="6.0" fill="#222" font-weight="bold" text-anchor="middle" >12</text>
<line x1="93.2" y1="200.2" x2="93.2" y2="366.6" stroke="#222" stroke-width="0.8" />
<line x1="93.0" y1="366.3" x2="259.9" y2="366.3" stroke="#222" stroke-width="0.8" />
<text x="74.3" y="283" font-size="5.6" fill="#222" font-weight="normal" text-anchor="middle" transform="rotate(-90 74.3 283)" stroke="#222" stroke-width="0.15">µm</text>
<text x="175.8" y="387.3" font-size="5.6" fill="#222" font-weight="normal" text-anchor="middle" stroke="#222" stroke-width="0.15">µm</text>
<rect x="274.5" y="236.9" width="10.199999999999989" height="115.70000000000002" fill="url(#cb)"/>
<path d="M274.5,352.6 L274.5,236.9 L284.7,236.9 L284.7,352.6" fill="none" stroke="#222" stroke-width="0.5" opacity="0.6"/>
<line x1="274.1" y1="236.9" x2="285.09999999999997" y2="236.9" stroke="#222" stroke-width="1.4" />
<line x1="274.5" y1="236.9" x2="284.7" y2="236.9" stroke="#2a1a10" stroke-width="0.6" />
<text x="289.6" y="239.1" font-size="6.0" fill="#222" font-weight="bold" text-anchor="start" >100</text>
<line x1="274.5" y1="265.825" x2="284.7" y2="265.825" stroke="#2a1a10" stroke-width="0.6" />
<text x="289.6" y="268.025" font-size="6.0" fill="#222" font-weight="bold" text-anchor="start" >50</text>
<line x1="274.5" y1="294.75" x2="284.7" y2="294.75" stroke="#2a1a10" stroke-width="0.6" />
<text x="289.6" y="296.95" font-size="6.0" fill="#222" font-weight="bold" text-anchor="start" >0</text>
<line x1="274.5" y1="323.675" x2="284.7" y2="323.675" stroke="#2a1a10" stroke-width="0.6" />
<text x="287.6" y="325.875" font-size="6.0" fill="#222" font-weight="bold" text-anchor="start" >-50</text>
<line x1="274.5" y1="352.6" x2="284.7" y2="352.6" stroke="#2a1a10" stroke-width="0.6" />
<text x="287.6" y="354.8" font-size="6.0" fill="#222" font-weight="bold" text-anchor="start" >-100</text>
<text x="279.6" y="232.6" font-size="5.4" fill="#222" font-weight="bold" text-anchor="middle" >nm</text>
<rect x="335.8" y="199.1" width="168.0" height="167.4" fill="#cb5409"/>
<rect x="335.8" y="199.1" width="168.0" height="167.4" fill="#fff" filter="url(#noise)"/>
<path d="M409.1,211.4 C408.5,213.2 406.7,218.8 405.4,222.5 C404.1,226.2 402.6,229.9 401.2,233.6 C399.8,237.3 398.4,241.0 397.1,244.7 C395.9,248.4 394.7,252.1 393.7,255.8 C392.7,259.5 391.9,263.2 391.3,266.9 C390.6,270.6 390.2,274.3 390.0,278.0 C389.9,281.7 389.9,285.3 390.2,289.0 C390.5,292.7 391.0,296.4 391.6,300.1 C392.3,303.8 393.2,307.5 394.2,311.2 C395.3,314.9 396.5,318.6 397.7,322.3 C398.9,326.0 400.3,329.7 401.6,333.4 C402.9,337.1 404.2,340.8 405.3,344.5 C406.4,348.2 407.7,353.8 408.2,355.6" fill="none" stroke="#6a1a90" stroke-width="5.6" stroke-linecap="butt" transform="translate(-0.3,0)"/>
<path d="M409.1,211.4 C408.5,213.2 406.7,218.8 405.4,222.5 C404.1,226.2 402.6,229.9 401.2,233.6 C399.8,237.3 398.4,241.0 397.1,244.7 C395.9,248.4 394.7,252.1 393.7,255.8 C392.7,259.5 391.9,263.2 391.3,266.9 C390.6,270.6 390.2,274.3 390.0,278.0 C389.9,281.7 389.9,285.3 390.2,289.0 C390.5,292.7 391.0,296.4 391.6,300.1 C392.3,303.8 393.2,307.5 394.2,311.2 C395.3,314.9 396.5,318.6 397.7,322.3 C398.9,326.0 400.3,329.7 401.6,333.4 C402.9,337.1 404.2,340.8 405.3,344.5 C406.4,348.2 407.7,353.8 408.2,355.6" fill="none" stroke="#0c0416" stroke-width="3.9" stroke-linecap="butt"/>
<path d="M417.2,214 C408,232 398.5,256 398.8,276 C399.2,300 408,328 419.8,349 L420,214 Z" fill="#5c1884"/>
<path d="M417,215 C408.5,234 400.6,256 401,276 C401.4,298 409,326 419.8,347" fill="none" stroke="#0c0416" stroke-width="4.3"/>
<path d="M417.6,222 C412,240 407.2,258 407.6,278 C408,298 413,322 420,342" fill="none" stroke="#0c0416" stroke-width="4.3"/>
<path d="M418.4,230 C415,246 413.2,262 413.6,280 C414,298 416.5,318 420.4,336" fill="none" stroke="#0c0416" stroke-width="4.3"/>
<clipPath id="clR"><rect x="388.5" y="283" width="25.5" height="71"/></clipPath>
<path d="M409.1,211.4 C408.5,213.2 406.7,218.8 405.4,222.5 C404.1,226.2 402.6,229.9 401.2,233.6 C399.8,237.3 398.4,241.0 397.1,244.7 C395.9,248.4 394.7,252.1 393.7,255.8 C392.7,259.5 391.9,263.2 391.3,266.9 C390.6,270.6 390.2,274.3 390.0,278.0 C389.9,281.7 389.9,285.3 390.2,289.0 C390.5,292.7 391.0,296.4 391.6,300.1 C392.3,303.8 393.2,307.5 394.2,311.2 C395.3,314.9 396.5,318.6 397.7,322.3 C398.9,326.0 400.3,329.7 401.6,333.4 C402.9,337.1 404.2,340.8 405.3,344.5 C406.4,348.2 407.7,353.8 408.2,355.6" fill="none" stroke="#c8d020" stroke-width="0.9" clip-path="url(#clR)"/>
<path d="M426,340 C427,348 431,352 430,356 C428.5,359.5 425.5,358 424.5,356 Z" fill="#1a0626"/>
<path d="M416.5,209.8 L423,209.8 L425.6,270 L426.5,300 L426.3,340 Q425.6,352 425.4,356 Q425,361 422,361 Q418.8,361 419.2,355 L419.6,340 L419.6,300 L417.7,270 Z" fill="#fff"/>
<rect x="388.5" y="281.5" width="25.5" height="75.8" fill="none" stroke="#f0e0d0" stroke-width="0.7" stroke-dasharray="1.2 0.8" opacity="0.7"/>
<circle cx="398.2" cy="351.5" r="0.9" fill="#fff2b0"/>
<circle cx="429.6" cy="283.4" r="0.9" fill="#fff2b0"/>
<text x="435.4" y="265.8" font-size="10" fill="#3c1400" font-weight="normal" text-anchor="start" textLength="56.6" lengthAdjust="spacingAndGlyphs" stroke="#3c1400" stroke-width="0.25">Manipulation</text>
<text x="435.4" y="275.4" font-size="10" fill="#3c1400" font-weight="normal" text-anchor="start" textLength="36.9" lengthAdjust="spacingAndGlyphs" stroke="#3c1400" stroke-width="0.25">direction</text>
<line x1="463.4" y1="283.0" x2="438.1" y2="283.0" stroke="#140800" stroke-width="1.7" />
<path d="M430.6,283.0 L438.1,280.4 L438.1,285.6 Z" fill="#140800"/>
<line x1="331.2" y1="366.2" x2="335.8" y2="366.2" stroke="#222" stroke-width="0.9" />
<text x="329.2" y="368.3" font-size="6.0" fill="#222" font-weight="bold" text-anchor="end" >0</text>
<line x1="336.1" y1="366.5" x2="336.1" y2="370.7" stroke="#222" stroke-width="0.9" />
<text x="336.1" y="379.1" font-size="6.0" fill="#222" font-weight="bold" text-anchor="middle" >0</text>
<line x1="331.2" y1="332.8" x2="335.8" y2="332.8" stroke="#222" stroke-width="0.9" />
<text x="329.2" y="334.9" font-size="6.0" fill="#222" font-weight="bold" text-anchor="end" >2</text>
<line x1="369.6" y1="366.5" x2="369.6" y2="370.7" stroke="#222" stroke-width="0.9" />
<text x="369.6" y="379.1" font-size="6.0" fill="#222" font-weight="bold" text-anchor="middle" >2</text>
<line x1="331.2" y1="299.5" x2="335.8" y2="299.5" stroke="#222" stroke-width="0.9" />
<text x="329.2" y="301.6" font-size="6.0" fill="#222" font-weight="bold" text-anchor="end" >4</text>
<line x1="403.1" y1="366.5" x2="403.1" y2="370.7" stroke="#222" stroke-width="0.9" />
<text x="403.1" y="379.1" font-size="6.0" fill="#222" font-weight="bold" text-anchor="middle" >4</text>
<line x1="331.2" y1="266.1" x2="335.8" y2="266.1" stroke="#222" stroke-width="0.9" />
<text x="329.2" y="268.2" font-size="6.0" fill="#222" font-weight="bold" text-anchor="end" >6</text>
<line x1="436.7" y1="366.5" x2="436.7" y2="370.7" stroke="#222" stroke-width="0.9" />
<text x="436.7" y="379.1" font-size="6.0" fill="#222" font-weight="bold" text-anchor="middle" >6</text>
<line x1="331.2" y1="232.8" x2="335.8" y2="232.8" stroke="#222" stroke-width="0.9" />
<text x="329.2" y="234.9" font-size="6.0" fill="#222" font-weight="bold" text-anchor="end" >8</text>
<line x1="470.2" y1="366.5" x2="470.2" y2="370.7" stroke="#222" stroke-width="0.9" />
<text x="470.2" y="379.1" font-size="6.0" fill="#222" font-weight="bold" text-anchor="middle" >8</text>
<line x1="331.2" y1="199.4" x2="335.8" y2="199.4" stroke="#222" stroke-width="0.9" />
<text x="329.2" y="201.5" font-size="6.0" fill="#222" font-weight="bold" text-anchor="end" >10</text>
<line x1="503.7" y1="366.5" x2="503.7" y2="370.7" stroke="#222" stroke-width="0.9" />
<text x="503.7" y="379.1" font-size="6.0" fill="#222" font-weight="bold" text-anchor="middle" >10</text>
<line x1="335.8" y1="199.1" x2="335.8" y2="366.8" stroke="#222" stroke-width="0.8" />
<line x1="335.6" y1="366.5" x2="503.8" y2="366.5" stroke="#222" stroke-width="0.8" />
<text x="309" y="283" font-size="5.6" fill="#222" font-weight="normal" text-anchor="middle" transform="rotate(-90 309 283)" stroke="#222" stroke-width="0.15">µm</text>
<text x="419" y="387.6" font-size="5.6" fill="#222" font-weight="normal" text-anchor="middle" stroke="#222" stroke-width="0.15">µm</text>
<rect x="518.9" y="236.4" width="9.399999999999977" height="116.20000000000002" fill="url(#cb)"/>
<path d="M518.9,352.6 L518.9,236.4 L528.3,236.4 L528.3,352.6" fill="none" stroke="#222" stroke-width="0.5" opacity="0.6"/>
<line x1="518.5" y1="236.4" x2="528.6999999999999" y2="236.4" stroke="#222" stroke-width="1.4" />
<line x1="518.9" y1="236.4" x2="528.3" y2="236.4" stroke="#2a1a10" stroke-width="0.6" />
<text x="533.4" y="238.6" font-size="6.0" fill="#222" font-weight="bold" text-anchor="start" >100</text>
<line x1="518.9" y1="265.45" x2="528.3" y2="265.45" stroke="#2a1a10" stroke-width="0.6" />
<text x="533.4" y="267.65" font-size="6.0" fill="#222" font-weight="bold" text-anchor="start" >50</text>
<line x1="518.9" y1="294.5" x2="528.3" y2="294.5" stroke="#2a1a10" stroke-width="0.6" />
<text x="533.4" y="296.7" font-size="6.0" fill="#222" font-weight="bold" text-anchor="start" >0</text>
<line x1="518.9" y1="323.55" x2="528.3" y2="323.55" stroke="#2a1a10" stroke-width="0.6" />
<text x="531.4" y="325.75" font-size="6.0" fill="#222" font-weight="bold" text-anchor="start" >-50</text>
<line x1="518.9" y1="352.6" x2="528.3" y2="352.6" stroke="#2a1a10" stroke-width="0.6" />
<text x="531.4" y="354.8" font-size="6.0" fill="#222" font-weight="bold" text-anchor="start" >-100</text>
<text x="523.5999999999999" y="232.1" font-size="5.4" fill="#222" font-weight="bold" text-anchor="middle" >nm</text>
<polyline points="127.6,467.8 128.5,467.3 129.4,467.6 130.3,468.3 131.2,466.1 132.1,465.8 133.0,468.8 133.9,465.0 134.8,467.6 135.7,467.3 136.6,464.5 137.5,468.1 138.4,468.4 139.3,467.2 140.2,467.7 141.1,468.0 142.0,464.9 142.9,466.7 143.8,466.6 144.4,466.0 144.7,455.3 144.9,444.7 145.2,434.0 145.5,423.3 145.7,412.7 146.0,402.0 146.3,402.3 147.2,402.2 148.1,402.3 149.0,401.8 149.9,402.4 150.8,402.0 151.7,402.0 152.6,401.1 153.5,400.7 154.4,400.9 155.3,401.3 156.2,400.8 157.1,402.3 158.0,401.7 158.9,401.9 159.8,401.9 160.7,402.0 161.6,401.6 162.5,400.6 163.4,402.2 164.3,402.1 165.2,401.6" fill="none" stroke="#ff8000" stroke-width="1.45" stroke-linejoin="round" stroke-linecap="round" />
<polyline points="144.2,466.2 145.1,466.7 146.0,464.0 146.9,467.1 147.8,464.9 148.7,464.0 149.6,464.9 150.5,467.1 151.4,464.6 152.3,467.1 153.2,468.2 154.1,466.0 155.0,465.5 155.9,465.9 156.8,466.8 157.7,467.2 158.6,466.5 159.5,466.7 160.4,464.1 161.3,464.4 162.2,464.9 163.1,467.1 164.0,466.0 164.2,455.3 164.4,444.7 164.6,434.0 164.8,423.3 165.0,412.7 165.2,402.0 165.5,400.8 166.4,401.3 167.3,400.3 168.2,400.4 169.1,400.8 170.0,401.5 170.9,401.5 171.8,401.5 172.7,400.8 173.6,401.2 174.5,401.1 175.4,401.1 176.3,400.5 177.2,401.9 178.1,400.7 179.0,402.1 179.9,402.0 180.8,400.3 181.7,401.1" fill="none" stroke="#808000" stroke-width="1.45" stroke-linejoin="round" stroke-linecap="round" />
<polyline points="163.6,467.3 164.5,468.0 165.4,465.6 166.3,464.7 167.2,464.5 168.1,467.8 169.0,464.5 169.9,466.2 170.8,464.2 171.7,465.9 172.6,467.9 173.5,464.1 174.4,467.3 175.3,465.8 176.2,467.6 177.1,466.7 178.0,464.6 178.9,467.6 179.8,465.7 180.7,463.6 181.6,463.5 182.8,466.0 183.2,455.2 183.5,444.5 183.9,433.8 184.3,423.0 184.6,412.2 185.0,401.5 185.3,401.2 186.2,401.1 187.1,400.8 188.0,400.5 188.9,400.9 189.8,400.8 190.7,401.9 191.6,400.2 192.5,401.7 193.4,401.9 194.3,400.4 195.2,402.1 196.1,401.6 197.0,402.0 197.9,400.8 198.8,400.9 199.7,401.0 200.6,402.2 201.5,401.4" fill="none" stroke="#f010f0" stroke-width="1.45" stroke-linejoin="round" stroke-linecap="round" />
<polyline points="182.5,464.4 183.4,464.7 184.3,464.0 185.2,463.0 186.1,463.2 187.0,466.4 187.9,463.9 188.8,466.8 189.7,463.8 190.6,463.8 191.5,464.9 192.4,463.4 193.3,464.2 194.2,466.8 195.1,466.4 196.0,466.1 196.9,465.3 197.8,466.5 198.7,466.6 199.6,464.9 200.5,465.6 201.4,462.6 202.3,465.6 203.2,464.4 204.1,465.7 205.0,465.2 205.9,463.6 206.8,462.5 207.7,466.4 208.6,462.8 209.5,464.3 210.7,462.0 211.0,458.8 211.3,458.3 212.2,456.9 213.1,456.3 214.0,455.3 215.0,453.0 215.3,444.5 215.6,436.0 215.9,427.5 216.2,419.0 216.5,410.5 216.8,402.0 217.0,401.0 217.9,402.0 218.8,401.1 219.7,401.7 220.6,401.3 221.5,400.8 222.4,400.8 223.3,400.9 224.2,402.6 225.1,401.6 226.0,400.9 226.9,402.6 227.8,402.8 228.7,401.5 229.6,400.7 230.5,400.9 231.4,400.6 232.3,401.2 233.2,400.6" fill="none" stroke="#008c8c" stroke-width="1.45" stroke-linejoin="round" stroke-linecap="round" />
<polyline points="214.2,454.6 215.1,454.2 216.0,454.8 216.9,455.5 217.8,454.5 218.7,452.8 219.6,452.4 220.5,452.3 221.4,451.3 222.3,450.7 223.2,449.2 224.1,449.6 225.0,451.6 225.9,448.1 226.8,449.0 227.7,448.9 228.6,449.3 229.5,446.5 230.4,446.3 231.3,445.7 232.2,445.8 233.1,445.5 234.0,446.8 234.9,446.0 235.4,444.0 235.8,442.1 236.2,438.8 236.5,434.4 236.9,429.2 237.3,423.2 237.7,416.7 238.0,409.6 238.4,402.0 238.6,401.9 239.5,400.2 240.4,400.3 241.3,401.6 242.2,402.0 243.1,401.1 244.0,401.4 244.9,400.2 245.8,401.0 246.7,402.1 247.6,401.9 248.5,401.9 249.4,402.1 250.3,400.7 251.2,400.4 252.1,400.5 253.0,401.2" fill="none" stroke="#1010f0" stroke-width="1.45" stroke-linejoin="round" stroke-linecap="round" />
<polyline points="234.9,447.9 235.8,448.4 236.7,447.3 237.6,446.6 238.5,446.7 239.4,445.2 240.3,445.2 241.2,443.0 242.1,445.2 243.0,442.9 243.9,444.9 244.8,443.5 245.7,442.0 246.6,441.0 247.5,441.0 248.4,442.0 249.3,441.8 250.2,439.4 251.1,438.9 252.0,440.0 252.9,439.8 254.0,438.6 254.3,435.0 254.7,429.8 255.0,423.7 255.3,417.0 255.7,409.7 256.0,402.0 256.2,401.4 257.1,401.0 258.0,401.8 258.9,400.6 259.8,401.2 260.7,401.5 261.6,402.5 262.5,401.9 263.4,402.4 264.3,401.6 265.2,401.1 266.1,401.1 267.0,402.5 267.9,402.0 268.8,401.2 269.7,400.6 270.6,401.6 271.5,401.9" fill="none" stroke="#f01010" stroke-width="1.45" stroke-linejoin="round" stroke-linecap="round" />
<polyline points="254.0,437.1 254.9,436.2 255.8,437.4 256.7,438.0 257.6,435.1 258.5,434.1 259.4,434.9 260.3,434.8 261.2,435.5 262.1,433.4 263.0,435.2 263.9,434.7 264.8,433.5 265.7,432.1 266.6,434.6 267.0,432.0 267.5,431.0 267.9,428.8 268.4,426.0 268.9,422.4 269.4,418.3 269.9,413.7 270.3,408.6 270.8,403.0 271.0,401.2 271.9,402.3 272.8,401.0 273.7,401.0 274.6,402.2 275.5,401.1 276.4,402.6 277.3,401.6 278.2,400.9 279.1,401.0 280.0,401.4 280.9,402.0 281.8,402.6 282.7,400.8 283.6,401.4 284.5,401.0 285.4,402.6 286.3,400.8 287.2,400.6 288.1,400.6 289.0,401.4 289.9,402.5 290.8,402.4 291.7,402.1" fill="none" stroke="#000" stroke-width="1.45" stroke-linejoin="round" stroke-linecap="round" />
<rect x="98.3" y="394.7" width="194.39999999999998" height="88.69999999999999" fill="none" stroke="#111" stroke-width="1.2"/>
<line x1="95.3" y1="401.2" x2="98.3" y2="401.2" stroke="#111" stroke-width="0.9" />
<text x="93.89999999999999" y="403.9" font-size="7.4" fill="#111" font-weight="normal" text-anchor="end" stroke="#111" stroke-width="0.2">0</text>
<line x1="96.6" y1="408.1" x2="98.3" y2="408.1" stroke="#111" stroke-width="0.8" />
<line x1="95.3" y1="414.9" x2="98.3" y2="414.9" stroke="#111" stroke-width="0.9" />
<text x="93.89999999999999" y="417.6" font-size="7.4" fill="#111" font-weight="normal" text-anchor="end" stroke="#111" stroke-width="0.2">-100</text>
<line x1="96.6" y1="421.8" x2="98.3" y2="421.8" stroke="#111" stroke-width="0.8" />
<line x1="95.3" y1="428.6" x2="98.3" y2="428.6" stroke="#111" stroke-width="0.9" />
<text x="93.89999999999999" y="431.3" font-size="7.4" fill="#111" font-weight="normal" text-anchor="end" stroke="#111" stroke-width="0.2">-200</text>
<line x1="96.6" y1="435.5" x2="98.3" y2="435.5" stroke="#111" stroke-width="0.8" />
<line x1="95.3" y1="442.4" x2="98.3" y2="442.4" stroke="#111" stroke-width="0.9" />
<text x="93.89999999999999" y="445.1" font-size="7.4" fill="#111" font-weight="normal" text-anchor="end" stroke="#111" stroke-width="0.2">-300</text>
<line x1="96.6" y1="449.2" x2="98.3" y2="449.2" stroke="#111" stroke-width="0.8" />
<line x1="95.3" y1="456.1" x2="98.3" y2="456.1" stroke="#111" stroke-width="0.9" />
<text x="93.89999999999999" y="458.8" font-size="7.4" fill="#111" font-weight="normal" text-anchor="end" stroke="#111" stroke-width="0.2">-400</text>
<line x1="96.6" y1="462.9" x2="98.3" y2="462.9" stroke="#111" stroke-width="0.8" />
<line x1="95.3" y1="469.8" x2="98.3" y2="469.8" stroke="#111" stroke-width="0.9" />
<text x="93.89999999999999" y="472.5" font-size="7.4" fill="#111" font-weight="normal" text-anchor="end" stroke="#111" stroke-width="0.2">-500</text>
<line x1="96.6" y1="476.7" x2="98.3" y2="476.7" stroke="#111" stroke-width="0.8" />
<line x1="95.3" y1="483.5" x2="98.3" y2="483.5" stroke="#111" stroke-width="0.9" />
<text x="93.89999999999999" y="486.2" font-size="7.4" fill="#111" font-weight="normal" text-anchor="end" stroke="#111" stroke-width="0.2">-600</text>
<line x1="98.3" y1="483.4" x2="98.3" y2="486.4" stroke="#111" stroke-width="0.9" />
<text x="98.3" y="494" font-size="7.4" fill="#111" font-weight="normal" text-anchor="middle" stroke="#111" stroke-width="0.2">-6</text>
<line x1="114.5" y1="483.4" x2="114.5" y2="485.09999999999997" stroke="#111" stroke-width="0.8" />
<line x1="130.7" y1="483.4" x2="130.7" y2="486.4" stroke="#111" stroke-width="0.9" />
<text x="130.7" y="494" font-size="7.4" fill="#111" font-weight="normal" text-anchor="middle" stroke="#111" stroke-width="0.2">-5</text>
<line x1="146.9" y1="483.4" x2="146.9" y2="485.09999999999997" stroke="#111" stroke-width="0.8" />
<line x1="163.1" y1="483.4" x2="163.1" y2="486.4" stroke="#111" stroke-width="0.9" />
<text x="163.1" y="494" font-size="7.4" fill="#111" font-weight="normal" text-anchor="middle" stroke="#111" stroke-width="0.2">-4</text>
<line x1="179.3" y1="483.4" x2="179.3" y2="485.09999999999997" stroke="#111" stroke-width="0.8" />
<line x1="195.5" y1="483.4" x2="195.5" y2="486.4" stroke="#111" stroke-width="0.9" />
<text x="195.5" y="494" font-size="7.4" fill="#111" font-weight="normal" text-anchor="middle" stroke="#111" stroke-width="0.2">-3</text>
<line x1="211.8" y1="483.4" x2="211.8" y2="485.09999999999997" stroke="#111" stroke-width="0.8" />
<line x1="228.0" y1="483.4" x2="228.0" y2="486.4" stroke="#111" stroke-width="0.9" />
<text x="228.0" y="494" font-size="7.4" fill="#111" font-weight="normal" text-anchor="middle" stroke="#111" stroke-width="0.2">-2</text>
<line x1="244.2" y1="483.4" x2="244.2" y2="485.09999999999997" stroke="#111" stroke-width="0.8" />
<line x1="260.4" y1="483.4" x2="260.4" y2="486.4" stroke="#111" stroke-width="0.9" />
<text x="260.4" y="494" font-size="7.4" fill="#111" font-weight="normal" text-anchor="middle" stroke="#111" stroke-width="0.2">-1</text>
<line x1="276.6" y1="483.4" x2="276.6" y2="485.09999999999997" stroke="#111" stroke-width="0.8" />
<line x1="292.8" y1="483.4" x2="292.8" y2="486.4" stroke="#111" stroke-width="0.9" />
<text x="292.8" y="494" font-size="7.4" fill="#111" font-weight="normal" text-anchor="middle" stroke="#111" stroke-width="0.2">0</text>
<text x="73.7" y="480.2" font-size="9.4" fill="#111" font-weight="bold" text-anchor="start" textLength="79" lengthAdjust="spacingAndGlyphs" transform="rotate(-90 73.7 480.2)" >Lateral force (nN)</text>
<text x="141" y="507" font-size="9.4" fill="#111" font-weight="bold" text-anchor="start" textLength="108.4" lengthAdjust="spacingAndGlyphs" >Manipulation length (µm)</text>
<line x1="100.9" y1="400.8" x2="117.8" y2="400.8" stroke="#000" stroke-width="1.6" />
<text x="120" y="403.6" font-size="7.6" fill="#111" font-weight="normal" text-anchor="start" stroke="#111" stroke-width="0.15">1st</text>
<line x1="100.9" y1="410.0" x2="117.8" y2="410.0" stroke="#f01010" stroke-width="1.6" />
<text x="120" y="412.8" font-size="7.6" fill="#111" font-weight="normal" text-anchor="start" stroke="#111" stroke-width="0.15">2nd</text>
<line x1="100.9" y1="419.3" x2="117.8" y2="419.3" stroke="#1010f0" stroke-width="1.6" />
<text x="120" y="422.1" font-size="7.6" fill="#111" font-weight="normal" text-anchor="start" stroke="#111" stroke-width="0.15">3rd</text>
<line x1="100.9" y1="428.5" x2="117.8" y2="428.5" stroke="#008c8c" stroke-width="1.6" />
<text x="120" y="431.3" font-size="7.6" fill="#111" font-weight="normal" text-anchor="start" stroke="#111" stroke-width="0.15">4th</text>
<line x1="100.9" y1="437.7" x2="117.8" y2="437.7" stroke="#f010f0" stroke-width="1.6" />
<text x="120" y="440.5" font-size="7.6" fill="#111" font-weight="normal" text-anchor="start" stroke="#111" stroke-width="0.15">5th</text>
<line x1="100.9" y1="447.0" x2="117.8" y2="447.0" stroke="#808000" stroke-width="1.6" />
<text x="120" y="449.8" font-size="7.6" fill="#111" font-weight="normal" text-anchor="start" stroke="#111" stroke-width="0.15">6th</text>
<line x1="100.9" y1="456.2" x2="117.8" y2="456.2" stroke="#ff8000" stroke-width="1.6" />
<text x="120" y="459.0" font-size="7.6" fill="#111" font-weight="normal" text-anchor="start" stroke="#111" stroke-width="0.15">7th</text>
<polyline points="348.1,473.9 350.0,472.6 351.8,474.6 353.9,472.9 356.2,474.9 357.9,474.4 360.0,473.2 361.9,470.5 364.1,464.6 365.8,462.3 366.9,465.6 368.3,471.5 369.4,474.1 370.8,470.2 372.3,466.6 373.7,471.0 374.9,476.0 376.6,472.5 378.0,475.9 379.1,477.4 380.3,474.3 381.9,470.6 383.0,467.5 383.6,466.0 384.0,463.5 384.4,458.8 384.8,452.8 385.2,445.6 385.6,437.5 386.0,428.6 386.4,418.9 386.8,408.4 387.0,407.2 387.9,408.6 388.8,407.3 389.7,408.3 390.6,408.6 391.5,408.6 392.4,407.5 393.3,407.5 394.2,407.8 395.1,408.3 396.0,407.1 396.9,408.2 397.8,408.3 398.7,408.4 399.6,407.0 400.5,408.6 401.4,407.1 402.3,407.5 403.2,408.0 404.1,408.6 405.0,407.5 405.9,408.6 406.8,407.9 407.7,407.5 408.6,407.5 409.5,407.2 410.4,407.0 411.3,407.2 412.2,408.1 413.1,408.7 414.0,407.2 414.9,407.0 415.8,408.7 416.7,407.9" fill="none" stroke="#008c8c" stroke-width="1.45" stroke-linejoin="round" stroke-linecap="round" />
<polyline points="376.5,474.7 378.0,478.4 379.5,475.9 380.8,473.5 382.3,470.0 384.1,466.1 385.6,468.0 387.1,468.3 388.3,469.9 389.9,467.9 391.4,462.9 393.2,461.4 394.7,462.4 396.0,467.3 397.5,469.7 399.0,467.6 400.5,472.1 402.2,469.7 403.5,471.8 404.8,467.7 406.6,466.9 407.9,466.3 409.6,460.2 411.1,456.3 412.2,455.7 413.3,459.0 413.8,457.0 414.2,454.9 414.6,450.9 415.0,445.8 415.4,439.8 415.7,433.0 416.1,425.4 416.5,417.2 416.9,408.4 417.1,407.9 418.0,407.7 418.9,407.0 419.8,408.2 420.7,407.7 421.6,407.5 422.5,406.5 423.4,407.5 424.3,407.0 425.2,407.7 426.1,407.3 427.0,408.0 427.9,407.7 428.8,407.9 429.7,407.1 430.6,407.7 431.5,407.8 432.4,408.0 433.3,407.1 434.2,408.0 435.1,408.1 436.0,407.7 436.9,408.3 437.8,408.2 438.7,407.4 439.6,407.5 440.6,404.0 441.4,403.2 442.2,406.5 443.0,406.8 443.9,408.0 444.8,408.2 445.7,407.4 446.6,407.7 447.5,407.8 448.4,407.8 449.3,406.8 450.2,407.9 451.1,407.5 452.0,407.7 452.9,407.3 453.8,407.6 454.7,407.9" fill="none" stroke="#1010f0" stroke-width="1.45" stroke-linejoin="round" stroke-linecap="round" />
<polyline points="413.1,458.8 414.3,460.6 415.8,458.2 416.9,462.2 418.5,464.5 419.6,460.2 420.4,466.6 421.7,460.6 422.9,455.9 424.5,454.9 426.0,457.6 427.4,461.5 428.8,462.4 430.4,457.4 431.8,455.4 433.4,456.4 435.0,452.5 436.5,450.3 438.0,454.5 439.6,455.9 441.1,455.7 442.4,457.1 444.0,455.1 445.8,456.6 446.6,454.0 447.0,448.7 447.3,441.8 447.6,434.2 448.0,426.0 448.4,417.4 448.7,408.4 449.0,407.8 449.9,407.3 450.8,408.4 451.7,406.6 452.6,406.8 453.5,407.7 454.4,407.8 455.3,406.9 456.2,407.9 457.1,408.4 458.0,407.4 458.9,407.5 459.8,407.1 460.7,407.2 461.6,408.5 462.5,407.4 463.4,408.5 464.3,408.4 465.2,407.8 466.1,407.1 467.0,408.6 467.9,407.6 468.8,407.4 469.7,407.2 470.6,408.6 471.5,407.6 472.4,407.2 473.3,407.6 474.2,406.8 475.1,407.8 476.0,407.5 476.9,407.2 477.8,408.2 478.7,408.3 479.6,406.6 480.5,407.7 481.4,407.1 482.3,408.5 483.2,408.2 484.1,407.1 485.0,407.1 485.9,406.9 486.8,408.6 487.7,407.2 488.6,407.8 489.5,407.5 490.4,407.9 491.3,407.8 492.2,408.1 493.1,406.8 494.0,408.1 494.9,407.2 495.8,407.7 496.7,407.3 497.6,407.2 498.5,407.7 499.4,407.5 500.3,407.3 501.2,408.1" fill="none" stroke="#f01010" stroke-width="1.45" stroke-linejoin="round" stroke-linecap="round" />
<polyline points="444.4,450.5 445.4,447.0 446.7,441.4 448.2,436.9 450.1,438.3 451.5,442.2 453.0,446.0 454.5,450.9 455.4,453.8 456.5,446.8 457.9,436.6 459.0,431.0 460.2,434.8 461.6,441.4 462.7,447.0 464.0,453.4 465.1,446.7 466.6,440.3 468.4,433.0 469.9,437.3 471.0,439.2 472.5,436.5 473.9,432.2 475.1,433.3 476.6,428.5 478.3,427.2 479.5,424.8 481.3,422.8 482.4,415.9 483.7,410.5 484.9,411.6 486.3,415.1 487.5,412.1 489.1,408.9 490.1,406.9 491.3,404.9 493.0,406.4 495.0,404.1 497.1,403.2 498.5,405.5 500.1,408.6 501.5,409.3 503.0,405.8 505.1,404.0 506.3,401.7 507.5,401.0 508.5,403.2 510.0,406.1 512.1,408.1 513.9,407.6 515.9,409.9 518.0,407.3 520.1,406.0 522.1,407.6 523.9,406.5 526.1,405.2 527.9,407.0 530.0,405.3 531.9,405.6 534.0,404.2 536.3,404.9" fill="none" stroke="#000" stroke-width="1.45" stroke-linejoin="round" stroke-linecap="round" />
<rect x="341.7" y="394.7" width="194.90000000000003" height="90.0" fill="none" stroke="#111" stroke-width="1.2"/>
<line x1="338.7" y1="407.4" x2="341.7" y2="407.4" stroke="#111" stroke-width="0.9" />
<text x="337.3" y="410.1" font-size="7.4" fill="#111" font-weight="normal" text-anchor="end" stroke="#111" stroke-width="0.2">0</text>
<line x1="340.0" y1="420.3" x2="341.7" y2="420.3" stroke="#111" stroke-width="0.8" />
<line x1="338.7" y1="433.2" x2="341.7" y2="433.2" stroke="#111" stroke-width="0.9" />
<text x="337.3" y="435.9" font-size="7.4" fill="#111" font-weight="normal" text-anchor="end" stroke="#111" stroke-width="0.2">-100</text>
<line x1="340.0" y1="446.1" x2="341.7" y2="446.1" stroke="#111" stroke-width="0.8" />
<line x1="338.7" y1="458.9" x2="341.7" y2="458.9" stroke="#111" stroke-width="0.9" />
<text x="337.3" y="461.6" font-size="7.4" fill="#111" font-weight="normal" text-anchor="end" stroke="#111" stroke-width="0.2">-200</text>
<line x1="340.0" y1="471.8" x2="341.7" y2="471.8" stroke="#111" stroke-width="0.8" />
<line x1="338.7" y1="484.7" x2="341.7" y2="484.7" stroke="#111" stroke-width="0.9" />
<text x="337.3" y="487.4" font-size="7.4" fill="#111" font-weight="normal" text-anchor="end" stroke="#111" stroke-width="0.2">-300</text>
<line x1="380.3" y1="484.7" x2="380.3" y2="487.7" stroke="#111" stroke-width="0.9" />
<text x="380.3" y="495.2" font-size="7.4" fill="#111" font-weight="normal" text-anchor="middle" stroke="#111" stroke-width="0.2">-2</text>
<line x1="458.4" y1="484.7" x2="458.4" y2="487.7" stroke="#111" stroke-width="0.9" />
<text x="458.4" y="495.2" font-size="7.4" fill="#111" font-weight="normal" text-anchor="middle" stroke="#111" stroke-width="0.2">-1</text>
<line x1="536.5" y1="484.7" x2="536.5" y2="487.7" stroke="#111" stroke-width="0.9" />
<text x="536.5" y="495.2" font-size="7.4" fill="#111" font-weight="normal" text-anchor="middle" stroke="#111" stroke-width="0.2">0</text>
<line x1="517.0" y1="484.7" x2="517.0" y2="486.4" stroke="#111" stroke-width="0.8" />
<line x1="497.4" y1="484.7" x2="497.4" y2="486.4" stroke="#111" stroke-width="0.8" />
<line x1="477.9" y1="484.7" x2="477.9" y2="486.4" stroke="#111" stroke-width="0.8" />
<line x1="438.9" y1="484.7" x2="438.9" y2="486.4" stroke="#111" stroke-width="0.8" />
<line x1="419.4" y1="484.7" x2="419.4" y2="486.4" stroke="#111" stroke-width="0.8" />
<line x1="399.8" y1="484.7" x2="399.8" y2="486.4" stroke="#111" stroke-width="0.8" />
<line x1="360.8" y1="484.7" x2="360.8" y2="486.4" stroke="#111" stroke-width="0.8" />
<text x="315.9" y="481.2" font-size="9.4" fill="#111" font-weight="bold" text-anchor="start" textLength="79.7" lengthAdjust="spacingAndGlyphs" transform="rotate(-90 315.9 481.2)" >Lateral force (nN)</text>
<text x="384.7" y="507.8" font-size="9.4" fill="#111" font-weight="bold" text-anchor="start" textLength="108.8" lengthAdjust="spacingAndGlyphs" >Manipulation length (µm)</text>
<line x1="497.8" y1="446.6" x2="515.6" y2="446.6" stroke="#000" stroke-width="1.6" />
<text x="518.9" y="449.4" font-size="7.6" fill="#111" font-weight="normal" text-anchor="start" stroke="#111" stroke-width="0.15">1st</text>
<line x1="497.8" y1="456.7" x2="515.6" y2="456.7" stroke="#f01010" stroke-width="1.6" />
<text x="518.9" y="459.5" font-size="7.6" fill="#111" font-weight="normal" text-anchor="start" stroke="#111" stroke-width="0.15">2nd</text>
<line x1="497.8" y1="466.7" x2="515.6" y2="466.7" stroke="#1010f0" stroke-width="1.6" />
<text x="518.9" y="469.5" font-size="7.6" fill="#111" font-weight="normal" text-anchor="start" stroke="#111" stroke-width="0.15">3rd</text>
<line x1="497.8" y1="476.8" x2="515.6" y2="476.8" stroke="#008c8c" stroke-width="1.6" />
<text x="518.9" y="479.6" font-size="7.6" fill="#111" font-weight="normal" text-anchor="start" stroke="#111" stroke-width="0.15">4th</text>
</svg>
</body></html>
